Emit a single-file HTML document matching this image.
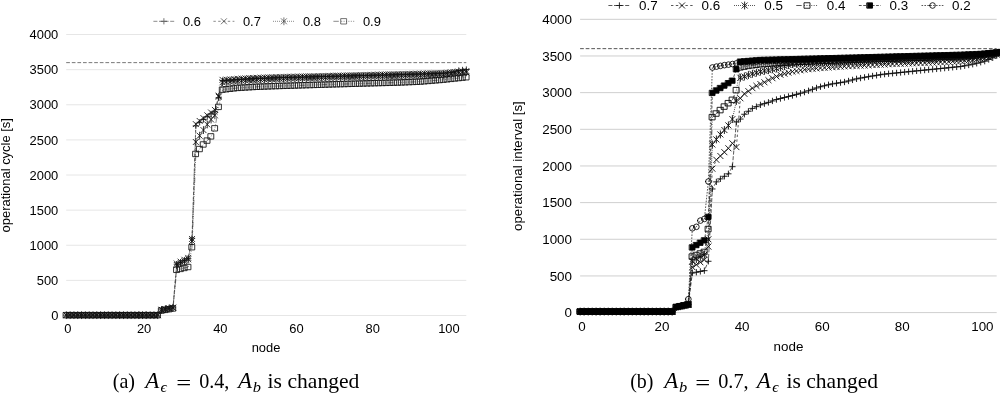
<!DOCTYPE html>
<html><head><meta charset="utf-8"><title>figure</title>
<style>
html,body{margin:0;padding:0;background:#fff;}
svg{display:block;}
text{fill:#000;}
</style></head>
<body>
<svg width="1000" height="393" viewBox="0 0 1000 393" font-family="'Liberation Sans','DejaVu Sans',sans-serif">
<rect width="1000" height="393" fill="#fff"/>
<g id="chart-a">
<line x1="66.2" x2="466.3" y1="315.50" y2="315.50" stroke="#e6e6e6" stroke-width="1"/>
<line x1="66.2" x2="466.3" y1="280.38" y2="280.38" stroke="#e6e6e6" stroke-width="1"/>
<line x1="66.2" x2="466.3" y1="245.26" y2="245.26" stroke="#e6e6e6" stroke-width="1"/>
<line x1="66.2" x2="466.3" y1="210.14" y2="210.14" stroke="#e6e6e6" stroke-width="1"/>
<line x1="66.2" x2="466.3" y1="175.02" y2="175.02" stroke="#e6e6e6" stroke-width="1"/>
<line x1="66.2" x2="466.3" y1="139.90" y2="139.90" stroke="#e6e6e6" stroke-width="1"/>
<line x1="66.2" x2="466.3" y1="104.78" y2="104.78" stroke="#e6e6e6" stroke-width="1"/>
<line x1="66.2" x2="466.3" y1="69.66" y2="69.66" stroke="#e6e6e6" stroke-width="1"/>
<line x1="66.2" x2="466.3" y1="34.54" y2="34.54" stroke="#e6e6e6" stroke-width="1"/>
<g font-size="12.9" text-anchor="end">
<text x="58.3" y="320.20">0</text>
<text x="58.3" y="285.08">500</text>
<text x="58.3" y="249.96">1000</text>
<text x="58.3" y="214.84">1500</text>
<text x="58.3" y="179.72">2000</text>
<text x="58.3" y="144.60">2500</text>
<text x="58.3" y="109.48">3000</text>
<text x="58.3" y="74.36">3500</text>
<text x="58.3" y="39.24">4000</text>
</g>
<g font-size="12.9" text-anchor="middle">
<text x="67.90" y="332.9">0</text>
<text x="144.10" y="332.9">20</text>
<text x="220.30" y="332.9">40</text>
<text x="296.50" y="332.9">60</text>
<text x="372.70" y="332.9">80</text>
<text x="448.90" y="332.9">100</text>
<text x="266" y="352.3">node</text>
</g>
<text font-size="12.9" text-anchor="middle" textLength="114.3" lengthAdjust="spacingAndGlyphs" transform="translate(9.7 175.3) rotate(-90)">operational cycle [s]</text>
<line x1="66.2" x2="466.3" y1="62.64" y2="62.64" stroke="#777" stroke-width="1" stroke-dasharray="3.7 1.9"/>
<polyline points="66.30,315.15 70.11,315.15 73.92,315.15 77.73,315.15 81.54,315.15 85.35,315.15 89.16,315.15 92.97,315.15 96.78,315.15 100.59,315.15 104.40,315.15 108.21,315.15 112.02,315.15 115.83,315.15 119.64,315.15 123.45,315.15 127.26,315.15 131.07,315.15 134.88,315.15 138.69,315.15 142.50,315.15 146.31,315.15 150.12,315.15 153.93,315.15 157.74,315.15 161.55,309.88 165.36,309.18 169.17,308.48 172.98,307.77 176.79,264.22 180.60,262.35 184.41,260.48 188.22,258.61 192.03,238.24 195.84,125.85 199.65,122.34 203.46,119.53 207.27,116.72 211.08,113.91 214.89,111.80 218.70,97.76 222.51,80.55 226.32,80.30 230.13,80.05 233.94,79.79 237.75,79.54 241.56,79.29 245.37,79.04 249.18,78.79 252.99,78.64 256.80,78.49 260.61,78.34 264.42,78.19 268.23,78.04 272.04,77.89 275.85,77.74 279.66,77.64 283.47,77.55 287.28,77.45 291.09,77.36 294.90,77.26 298.71,77.17 302.52,77.07 306.33,76.98 310.14,76.88 313.95,76.79 317.76,76.69 321.57,76.60 325.38,76.50 329.19,76.41 333.00,76.31 336.81,76.22 340.62,76.12 344.43,76.03 348.24,75.93 352.05,75.83 355.86,75.74 359.67,75.64 363.48,75.54 367.29,75.45 371.10,75.35 374.91,75.25 378.72,75.16 382.53,75.06 386.34,74.96 390.15,74.87 393.96,74.77 397.77,74.67 401.58,74.58 405.39,74.46 409.20,74.35 413.01,74.23 416.82,74.12 420.63,74.00 424.44,73.89 428.25,73.77 432.06,73.66 435.87,73.54 439.68,73.43 443.49,73.31 447.30,72.84 451.11,72.38 454.92,71.91 458.73,70.50 462.54,69.94 466.35,69.52" fill="none" stroke="#3a3a3a" stroke-width="0.6" stroke-dasharray="4 1.6"/>
<path d="M63.70 315.15H68.90M66.30 312.55V317.75M67.51 315.15H72.71M70.11 312.55V317.75M71.32 315.15H76.52M73.92 312.55V317.75M75.13 315.15H80.33M77.73 312.55V317.75M78.94 315.15H84.14M81.54 312.55V317.75M82.75 315.15H87.95M85.35 312.55V317.75M86.56 315.15H91.76M89.16 312.55V317.75M90.37 315.15H95.57M92.97 312.55V317.75M94.18 315.15H99.38M96.78 312.55V317.75M97.99 315.15H103.19M100.59 312.55V317.75M101.80 315.15H107.00M104.40 312.55V317.75M105.61 315.15H110.81M108.21 312.55V317.75M109.42 315.15H114.62M112.02 312.55V317.75M113.23 315.15H118.43M115.83 312.55V317.75M117.04 315.15H122.24M119.64 312.55V317.75M120.85 315.15H126.05M123.45 312.55V317.75M124.66 315.15H129.86M127.26 312.55V317.75M128.47 315.15H133.67M131.07 312.55V317.75M132.28 315.15H137.48M134.88 312.55V317.75M136.09 315.15H141.29M138.69 312.55V317.75M139.90 315.15H145.10M142.50 312.55V317.75M143.71 315.15H148.91M146.31 312.55V317.75M147.52 315.15H152.72M150.12 312.55V317.75M151.33 315.15H156.53M153.93 312.55V317.75M155.14 315.15H160.34M157.74 312.55V317.75M158.95 309.88H164.15M161.55 307.28V312.48M162.76 309.18H167.96M165.36 306.58V311.78M166.57 308.48H171.77M169.17 305.88V311.08M170.38 307.77H175.58M172.98 305.17V310.37M174.19 264.22H179.39M176.79 261.62V266.82M178.00 262.35H183.20M180.60 259.75V264.95M181.81 260.48H187.01M184.41 257.88V263.08M185.62 258.61H190.82M188.22 256.01V261.21M189.43 238.24H194.63M192.03 235.64V240.84M193.24 125.85H198.44M195.84 123.25V128.45M197.05 122.34H202.25M199.65 119.74V124.94M200.86 119.53H206.06M203.46 116.93V122.13M204.67 116.72H209.87M207.27 114.12V119.32M208.48 113.91H213.68M211.08 111.31V116.51M212.29 111.80H217.49M214.89 109.20V114.40M216.10 97.76H221.30M218.70 95.16V100.36M219.91 80.55H225.11M222.51 77.95V83.15M223.72 80.30H228.92M226.32 77.70V82.90M227.53 80.05H232.73M230.13 77.45V82.65M231.34 79.79H236.54M233.94 77.19V82.39M235.15 79.54H240.35M237.75 76.94V82.14M238.96 79.29H244.16M241.56 76.69V81.89M242.77 79.04H247.97M245.37 76.44V81.64M246.58 78.79H251.78M249.18 76.19V81.39M250.39 78.64H255.59M252.99 76.04V81.24M254.20 78.49H259.40M256.80 75.89V81.09M258.01 78.34H263.21M260.61 75.74V80.94M261.82 78.19H267.02M264.42 75.59V80.79M265.63 78.04H270.83M268.23 75.44V80.64M269.44 77.89H274.64M272.04 75.29V80.49M273.25 77.74H278.45M275.85 75.14V80.34M277.06 77.64H282.26M279.66 75.04V80.24M280.87 77.55H286.07M283.47 74.95V80.15M284.68 77.45H289.88M287.28 74.85V80.05M288.49 77.36H293.69M291.09 74.76V79.96M292.30 77.26H297.50M294.90 74.66V79.86M296.11 77.17H301.31M298.71 74.57V79.77M299.92 77.07H305.12M302.52 74.47V79.67M303.73 76.98H308.93M306.33 74.38V79.58M307.54 76.88H312.74M310.14 74.28V79.48M311.35 76.79H316.55M313.95 74.19V79.39M315.16 76.69H320.36M317.76 74.09V79.29M318.97 76.60H324.17M321.57 74.00V79.20M322.78 76.50H327.98M325.38 73.90V79.10M326.59 76.41H331.79M329.19 73.81V79.01M330.40 76.31H335.60M333.00 73.71V78.91M334.21 76.22H339.41M336.81 73.62V78.82M338.02 76.12H343.22M340.62 73.52V78.72M341.83 76.03H347.03M344.43 73.43V78.63M345.64 75.93H350.84M348.24 73.33V78.53M349.45 75.83H354.65M352.05 73.23V78.43M353.26 75.74H358.46M355.86 73.14V78.34M357.07 75.64H362.27M359.67 73.04V78.24M360.88 75.54H366.08M363.48 72.94V78.14M364.69 75.45H369.89M367.29 72.85V78.05M368.50 75.35H373.70M371.10 72.75V77.95M372.31 75.25H377.51M374.91 72.65V77.85M376.12 75.16H381.32M378.72 72.56V77.76M379.93 75.06H385.13M382.53 72.46V77.66M383.74 74.96H388.94M386.34 72.36V77.56M387.55 74.87H392.75M390.15 72.27V77.47M391.36 74.77H396.56M393.96 72.17V77.37M395.17 74.67H400.37M397.77 72.07V77.27M398.98 74.58H404.18M401.58 71.98V77.18M402.79 74.46H407.99M405.39 71.86V77.06M406.60 74.35H411.80M409.20 71.75V76.95M410.41 74.23H415.61M413.01 71.63V76.83M414.22 74.12H419.42M416.82 71.52V76.72M418.03 74.00H423.23M420.63 71.40V76.60M421.84 73.89H427.04M424.44 71.29V76.49M425.65 73.77H430.85M428.25 71.17V76.37M429.46 73.66H434.66M432.06 71.06V76.26M433.27 73.54H438.47M435.87 70.94V76.14M437.08 73.43H442.28M439.68 70.83V76.03M440.89 73.31H446.09M443.49 70.71V75.91M444.70 72.84H449.90M447.30 70.24V75.44M448.51 72.38H453.71M451.11 69.78V74.98M452.32 71.91H457.52M454.92 69.31V74.51M456.13 70.50H461.33M458.73 67.90V73.10M459.94 69.94H465.14M462.54 67.34V72.54M463.75 69.52H468.95M466.35 66.92V72.12" fill="none" stroke="#111" stroke-width="0.85" stroke-linecap="square"/>
<polyline points="66.30,315.15 70.11,315.15 73.92,315.15 77.73,315.15 81.54,315.15 85.35,315.15 89.16,315.15 92.97,315.15 96.78,315.15 100.59,315.15 104.40,315.15 108.21,315.15 112.02,315.15 115.83,315.15 119.64,315.15 123.45,315.15 127.26,315.15 131.07,315.15 134.88,315.15 138.69,315.15 142.50,315.15 146.31,315.15 150.12,315.15 153.93,315.15 157.74,315.15 161.55,309.74 165.36,309.04 169.17,308.34 172.98,307.63 176.79,263.52 180.60,261.65 184.41,259.78 188.22,257.90 192.03,238.94 195.84,124.10 199.65,120.94 203.46,118.13 207.27,115.32 211.08,112.51 214.89,109.91 218.70,95.65 222.51,79.84 226.32,79.59 230.13,79.34 233.94,79.09 237.75,78.84 241.56,78.59 245.37,78.34 249.18,78.09 252.99,77.94 256.80,77.79 260.61,77.64 264.42,77.49 268.23,77.34 272.04,77.19 275.85,77.04 279.66,76.95 283.47,76.86 287.28,76.77 291.09,76.69 294.90,76.60 298.71,76.51 302.52,76.43 306.33,76.34 310.14,76.25 313.95,76.17 317.76,76.08 321.57,75.99 325.38,75.91 329.19,75.82 333.00,75.73 336.81,75.65 340.62,75.56 344.43,75.46 348.24,75.37 352.05,75.27 355.86,75.17 359.67,75.08 363.48,74.98 367.29,74.88 371.10,74.79 374.91,74.69 378.72,74.59 382.53,74.50 386.34,74.40 390.15,74.30 393.96,74.21 397.77,74.11 401.58,74.01 405.39,73.93 409.20,73.84 413.01,73.75 416.82,73.66 420.63,73.57 424.44,73.48 428.25,73.39 432.06,73.30 435.87,73.21 439.68,73.12 443.49,73.03 447.30,72.70 451.11,72.38 454.92,72.05 458.73,71.72 462.54,71.39 466.35,71.06" fill="none" stroke="#3a3a3a" stroke-width="0.6" stroke-dasharray="2.4 2.4"/>
<path d="M63.70 312.55L68.90 317.75M63.70 317.75L68.90 312.55M67.51 312.55L72.71 317.75M67.51 317.75L72.71 312.55M71.32 312.55L76.52 317.75M71.32 317.75L76.52 312.55M75.13 312.55L80.33 317.75M75.13 317.75L80.33 312.55M78.94 312.55L84.14 317.75M78.94 317.75L84.14 312.55M82.75 312.55L87.95 317.75M82.75 317.75L87.95 312.55M86.56 312.55L91.76 317.75M86.56 317.75L91.76 312.55M90.37 312.55L95.57 317.75M90.37 317.75L95.57 312.55M94.18 312.55L99.38 317.75M94.18 317.75L99.38 312.55M97.99 312.55L103.19 317.75M97.99 317.75L103.19 312.55M101.80 312.55L107.00 317.75M101.80 317.75L107.00 312.55M105.61 312.55L110.81 317.75M105.61 317.75L110.81 312.55M109.42 312.55L114.62 317.75M109.42 317.75L114.62 312.55M113.23 312.55L118.43 317.75M113.23 317.75L118.43 312.55M117.04 312.55L122.24 317.75M117.04 317.75L122.24 312.55M120.85 312.55L126.05 317.75M120.85 317.75L126.05 312.55M124.66 312.55L129.86 317.75M124.66 317.75L129.86 312.55M128.47 312.55L133.67 317.75M128.47 317.75L133.67 312.55M132.28 312.55L137.48 317.75M132.28 317.75L137.48 312.55M136.09 312.55L141.29 317.75M136.09 317.75L141.29 312.55M139.90 312.55L145.10 317.75M139.90 317.75L145.10 312.55M143.71 312.55L148.91 317.75M143.71 317.75L148.91 312.55M147.52 312.55L152.72 317.75M147.52 317.75L152.72 312.55M151.33 312.55L156.53 317.75M151.33 317.75L156.53 312.55M155.14 312.55L160.34 317.75M155.14 317.75L160.34 312.55M158.95 307.14L164.15 312.34M158.95 312.34L164.15 307.14M162.76 306.44L167.96 311.64M162.76 311.64L167.96 306.44M166.57 305.74L171.77 310.94M166.57 310.94L171.77 305.74M170.38 305.03L175.58 310.23M170.38 310.23L175.58 305.03M174.19 260.92L179.39 266.12M174.19 266.12L179.39 260.92M178.00 259.05L183.20 264.25M178.00 264.25L183.20 259.05M181.81 257.18L187.01 262.38M181.81 262.38L187.01 257.18M185.62 255.30L190.82 260.50M185.62 260.50L190.82 255.30M189.43 236.34L194.63 241.54M189.43 241.54L194.63 236.34M193.24 121.50L198.44 126.70M193.24 126.70L198.44 121.50M197.05 118.34L202.25 123.54M197.05 123.54L202.25 118.34M200.86 115.53L206.06 120.73M200.86 120.73L206.06 115.53M204.67 112.72L209.87 117.92M204.67 117.92L209.87 112.72M208.48 109.91L213.68 115.11M208.48 115.11L213.68 109.91M212.29 107.31L217.49 112.51M212.29 112.51L217.49 107.31M216.10 93.05L221.30 98.25M216.10 98.25L221.30 93.05M219.91 77.24L225.11 82.44M219.91 82.44L225.11 77.24M223.72 76.99L228.92 82.19M223.72 82.19L228.92 76.99M227.53 76.74L232.73 81.94M227.53 81.94L232.73 76.74M231.34 76.49L236.54 81.69M231.34 81.69L236.54 76.49M235.15 76.24L240.35 81.44M235.15 81.44L240.35 76.24M238.96 75.99L244.16 81.19M238.96 81.19L244.16 75.99M242.77 75.74L247.97 80.94M242.77 80.94L247.97 75.74M246.58 75.49L251.78 80.69M246.58 80.69L251.78 75.49M250.39 75.34L255.59 80.54M250.39 80.54L255.59 75.34M254.20 75.19L259.40 80.39M254.20 80.39L259.40 75.19M258.01 75.04L263.21 80.24M258.01 80.24L263.21 75.04M261.82 74.89L267.02 80.09M261.82 80.09L267.02 74.89M265.63 74.74L270.83 79.94M265.63 79.94L270.83 74.74M269.44 74.59L274.64 79.79M269.44 79.79L274.64 74.59M273.25 74.44L278.45 79.64M273.25 79.64L278.45 74.44M277.06 74.35L282.26 79.55M277.06 79.55L282.26 74.35M280.87 74.26L286.07 79.46M280.87 79.46L286.07 74.26M284.68 74.17L289.88 79.37M284.68 79.37L289.88 74.17M288.49 74.09L293.69 79.29M288.49 79.29L293.69 74.09M292.30 74.00L297.50 79.20M292.30 79.20L297.50 74.00M296.11 73.91L301.31 79.11M296.11 79.11L301.31 73.91M299.92 73.83L305.12 79.03M299.92 79.03L305.12 73.83M303.73 73.74L308.93 78.94M303.73 78.94L308.93 73.74M307.54 73.65L312.74 78.85M307.54 78.85L312.74 73.65M311.35 73.57L316.55 78.77M311.35 78.77L316.55 73.57M315.16 73.48L320.36 78.68M315.16 78.68L320.36 73.48M318.97 73.39L324.17 78.59M318.97 78.59L324.17 73.39M322.78 73.31L327.98 78.51M322.78 78.51L327.98 73.31M326.59 73.22L331.79 78.42M326.59 78.42L331.79 73.22M330.40 73.13L335.60 78.33M330.40 78.33L335.60 73.13M334.21 73.05L339.41 78.25M334.21 78.25L339.41 73.05M338.02 72.96L343.22 78.16M338.02 78.16L343.22 72.96M341.83 72.86L347.03 78.06M341.83 78.06L347.03 72.86M345.64 72.77L350.84 77.97M345.64 77.97L350.84 72.77M349.45 72.67L354.65 77.87M349.45 77.87L354.65 72.67M353.26 72.57L358.46 77.77M353.26 77.77L358.46 72.57M357.07 72.48L362.27 77.68M357.07 77.68L362.27 72.48M360.88 72.38L366.08 77.58M360.88 77.58L366.08 72.38M364.69 72.28L369.89 77.48M364.69 77.48L369.89 72.28M368.50 72.19L373.70 77.39M368.50 77.39L373.70 72.19M372.31 72.09L377.51 77.29M372.31 77.29L377.51 72.09M376.12 71.99L381.32 77.19M376.12 77.19L381.32 71.99M379.93 71.90L385.13 77.10M379.93 77.10L385.13 71.90M383.74 71.80L388.94 77.00M383.74 77.00L388.94 71.80M387.55 71.70L392.75 76.90M387.55 76.90L392.75 71.70M391.36 71.61L396.56 76.81M391.36 76.81L396.56 71.61M395.17 71.51L400.37 76.71M395.17 76.71L400.37 71.51M398.98 71.41L404.18 76.61M398.98 76.61L404.18 71.41M402.79 71.33L407.99 76.53M402.79 76.53L407.99 71.33M406.60 71.24L411.80 76.44M406.60 76.44L411.80 71.24M410.41 71.15L415.61 76.35M410.41 76.35L415.61 71.15M414.22 71.06L419.42 76.26M414.22 76.26L419.42 71.06M418.03 70.97L423.23 76.17M418.03 76.17L423.23 70.97M421.84 70.88L427.04 76.08M421.84 76.08L427.04 70.88M425.65 70.79L430.85 75.99M425.65 75.99L430.85 70.79M429.46 70.70L434.66 75.90M429.46 75.90L434.66 70.70M433.27 70.61L438.47 75.81M433.27 75.81L438.47 70.61M437.08 70.52L442.28 75.72M437.08 75.72L442.28 70.52M440.89 70.43L446.09 75.63M440.89 75.63L446.09 70.43M444.70 70.10L449.90 75.30M444.70 75.30L449.90 70.10M448.51 69.78L453.71 74.98M448.51 74.98L453.71 69.78M452.32 69.45L457.52 74.65M452.32 74.65L457.52 69.45M456.13 69.12L461.33 74.32M456.13 74.32L461.33 69.12M459.94 68.79L465.14 73.99M459.94 73.99L465.14 68.79M463.75 68.46L468.95 73.66M463.75 73.66L468.95 68.46" fill="none" stroke="#111" stroke-width="0.85" stroke-linecap="square"/>
<polyline points="66.30,315.15 70.11,315.15 73.92,315.15 77.73,315.15 81.54,315.15 85.35,315.15 89.16,315.15 92.97,315.15 96.78,315.15 100.59,315.15 104.40,315.15 108.21,315.15 112.02,315.15 115.83,315.15 119.64,315.15 123.45,315.15 127.26,315.15 131.07,315.15 134.88,315.15 138.69,315.15 142.50,315.15 146.31,315.15 150.12,315.15 153.93,315.15 157.74,315.15 161.55,309.88 165.36,309.18 169.17,308.48 172.98,307.77 176.79,264.93 180.60,263.05 184.41,261.18 188.22,259.31 192.03,241.05 195.84,142.01 199.65,135.69 203.46,130.07 207.27,124.45 211.08,119.53 214.89,115.32 218.70,96.70 222.51,82.30 226.32,82.00 230.13,81.70 233.94,81.40 237.75,81.10 241.56,80.80 245.37,80.50 249.18,80.20 252.99,80.02 256.80,79.83 260.61,79.65 264.42,79.47 268.23,79.29 272.04,79.11 275.85,78.93 279.66,78.83 283.47,78.73 287.28,78.63 291.09,78.54 294.90,78.44 298.71,78.34 302.52,78.24 306.33,78.14 310.14,78.04 313.95,77.94 317.76,77.84 321.57,77.74 325.38,77.64 329.19,77.54 333.00,77.44 336.81,77.35 340.62,77.25 344.43,77.16 348.24,77.07 352.05,76.98 355.86,76.89 359.67,76.81 363.48,76.72 367.29,76.63 371.10,76.54 374.91,76.46 378.72,76.37 382.53,76.28 386.34,76.19 390.15,76.10 393.96,76.02 397.77,75.93 401.58,75.84 405.39,75.74 409.20,75.64 413.01,75.53 416.82,75.43 420.63,75.33 424.44,75.23 428.25,75.13 432.06,75.02 435.87,74.92 439.68,74.82 443.49,74.72 447.30,74.32 451.11,73.92 454.92,73.52 458.73,73.13 462.54,72.73 466.35,72.33" fill="none" stroke="#3a3a3a" stroke-width="0.6" stroke-dasharray="1 1"/>
<path d="M63.70 312.55L68.90 317.75M63.70 317.75L68.90 312.55M66.30 311.75V318.55M67.51 312.55L72.71 317.75M67.51 317.75L72.71 312.55M70.11 311.75V318.55M71.32 312.55L76.52 317.75M71.32 317.75L76.52 312.55M73.92 311.75V318.55M75.13 312.55L80.33 317.75M75.13 317.75L80.33 312.55M77.73 311.75V318.55M78.94 312.55L84.14 317.75M78.94 317.75L84.14 312.55M81.54 311.75V318.55M82.75 312.55L87.95 317.75M82.75 317.75L87.95 312.55M85.35 311.75V318.55M86.56 312.55L91.76 317.75M86.56 317.75L91.76 312.55M89.16 311.75V318.55M90.37 312.55L95.57 317.75M90.37 317.75L95.57 312.55M92.97 311.75V318.55M94.18 312.55L99.38 317.75M94.18 317.75L99.38 312.55M96.78 311.75V318.55M97.99 312.55L103.19 317.75M97.99 317.75L103.19 312.55M100.59 311.75V318.55M101.80 312.55L107.00 317.75M101.80 317.75L107.00 312.55M104.40 311.75V318.55M105.61 312.55L110.81 317.75M105.61 317.75L110.81 312.55M108.21 311.75V318.55M109.42 312.55L114.62 317.75M109.42 317.75L114.62 312.55M112.02 311.75V318.55M113.23 312.55L118.43 317.75M113.23 317.75L118.43 312.55M115.83 311.75V318.55M117.04 312.55L122.24 317.75M117.04 317.75L122.24 312.55M119.64 311.75V318.55M120.85 312.55L126.05 317.75M120.85 317.75L126.05 312.55M123.45 311.75V318.55M124.66 312.55L129.86 317.75M124.66 317.75L129.86 312.55M127.26 311.75V318.55M128.47 312.55L133.67 317.75M128.47 317.75L133.67 312.55M131.07 311.75V318.55M132.28 312.55L137.48 317.75M132.28 317.75L137.48 312.55M134.88 311.75V318.55M136.09 312.55L141.29 317.75M136.09 317.75L141.29 312.55M138.69 311.75V318.55M139.90 312.55L145.10 317.75M139.90 317.75L145.10 312.55M142.50 311.75V318.55M143.71 312.55L148.91 317.75M143.71 317.75L148.91 312.55M146.31 311.75V318.55M147.52 312.55L152.72 317.75M147.52 317.75L152.72 312.55M150.12 311.75V318.55M151.33 312.55L156.53 317.75M151.33 317.75L156.53 312.55M153.93 311.75V318.55M155.14 312.55L160.34 317.75M155.14 317.75L160.34 312.55M157.74 311.75V318.55M158.95 307.28L164.15 312.48M158.95 312.48L164.15 307.28M161.55 306.48V313.28M162.76 306.58L167.96 311.78M162.76 311.78L167.96 306.58M165.36 305.78V312.58M166.57 305.88L171.77 311.08M166.57 311.08L171.77 305.88M169.17 305.08V311.88M170.38 305.17L175.58 310.37M170.38 310.37L175.58 305.17M172.98 304.37V311.17M174.19 262.33L179.39 267.53M174.19 267.53L179.39 262.33M176.79 261.53V268.33M178.00 260.45L183.20 265.65M178.00 265.65L183.20 260.45M180.60 259.65V266.45M181.81 258.58L187.01 263.78M181.81 263.78L187.01 258.58M184.41 257.78V264.58M185.62 256.71L190.82 261.91M185.62 261.91L190.82 256.71M188.22 255.91V262.71M189.43 238.45L194.63 243.65M189.43 243.65L194.63 238.45M192.03 237.65V244.45M193.24 139.41L198.44 144.61M193.24 144.61L198.44 139.41M195.84 138.61V145.41M197.05 133.09L202.25 138.29M197.05 138.29L202.25 133.09M199.65 132.29V139.09M200.86 127.47L206.06 132.67M200.86 132.67L206.06 127.47M203.46 126.67V133.47M204.67 121.85L209.87 127.05M204.67 127.05L209.87 121.85M207.27 121.05V127.85M208.48 116.93L213.68 122.13M208.48 122.13L213.68 116.93M211.08 116.13V122.93M212.29 112.72L217.49 117.92M212.29 117.92L217.49 112.72M214.89 111.92V118.72M216.10 94.10L221.30 99.30M216.10 99.30L221.30 94.10M218.70 93.30V100.10M219.91 79.70L225.11 84.90M219.91 84.90L225.11 79.70M222.51 78.90V85.70M223.72 79.40L228.92 84.60M223.72 84.60L228.92 79.40M226.32 78.60V85.40M227.53 79.10L232.73 84.30M227.53 84.30L232.73 79.10M230.13 78.30V85.10M231.34 78.80L236.54 84.00M231.34 84.00L236.54 78.80M233.94 78.00V84.80M235.15 78.50L240.35 83.70M235.15 83.70L240.35 78.50M237.75 77.70V84.50M238.96 78.20L244.16 83.40M238.96 83.40L244.16 78.20M241.56 77.40V84.20M242.77 77.90L247.97 83.10M242.77 83.10L247.97 77.90M245.37 77.10V83.90M246.58 77.60L251.78 82.80M246.58 82.80L251.78 77.60M249.18 76.80V83.60M250.39 77.42L255.59 82.62M250.39 82.62L255.59 77.42M252.99 76.62V83.42M254.20 77.23L259.40 82.43M254.20 82.43L259.40 77.23M256.80 76.43V83.23M258.01 77.05L263.21 82.25M258.01 82.25L263.21 77.05M260.61 76.25V83.05M261.82 76.87L267.02 82.07M261.82 82.07L267.02 76.87M264.42 76.07V82.87M265.63 76.69L270.83 81.89M265.63 81.89L270.83 76.69M268.23 75.89V82.69M269.44 76.51L274.64 81.71M269.44 81.71L274.64 76.51M272.04 75.71V82.51M273.25 76.33L278.45 81.53M273.25 81.53L278.45 76.33M275.85 75.53V82.33M277.06 76.23L282.26 81.43M277.06 81.43L282.26 76.23M279.66 75.43V82.23M280.87 76.13L286.07 81.33M280.87 81.33L286.07 76.13M283.47 75.33V82.13M284.68 76.03L289.88 81.23M284.68 81.23L289.88 76.03M287.28 75.23V82.03M288.49 75.94L293.69 81.14M288.49 81.14L293.69 75.94M291.09 75.14V81.94M292.30 75.84L297.50 81.04M292.30 81.04L297.50 75.84M294.90 75.04V81.84M296.11 75.74L301.31 80.94M296.11 80.94L301.31 75.74M298.71 74.94V81.74M299.92 75.64L305.12 80.84M299.92 80.84L305.12 75.64M302.52 74.84V81.64M303.73 75.54L308.93 80.74M303.73 80.74L308.93 75.54M306.33 74.74V81.54M307.54 75.44L312.74 80.64M307.54 80.64L312.74 75.44M310.14 74.64V81.44M311.35 75.34L316.55 80.54M311.35 80.54L316.55 75.34M313.95 74.54V81.34M315.16 75.24L320.36 80.44M315.16 80.44L320.36 75.24M317.76 74.44V81.24M318.97 75.14L324.17 80.34M318.97 80.34L324.17 75.14M321.57 74.34V81.14M322.78 75.04L327.98 80.24M322.78 80.24L327.98 75.04M325.38 74.24V81.04M326.59 74.94L331.79 80.14M326.59 80.14L331.79 74.94M329.19 74.14V80.94M330.40 74.84L335.60 80.04M330.40 80.04L335.60 74.84M333.00 74.04V80.84M334.21 74.75L339.41 79.95M334.21 79.95L339.41 74.75M336.81 73.95V80.75M338.02 74.65L343.22 79.85M338.02 79.85L343.22 74.65M340.62 73.85V80.65M341.83 74.56L347.03 79.76M341.83 79.76L347.03 74.56M344.43 73.76V80.56M345.64 74.47L350.84 79.67M345.64 79.67L350.84 74.47M348.24 73.67V80.47M349.45 74.38L354.65 79.58M349.45 79.58L354.65 74.38M352.05 73.58V80.38M353.26 74.29L358.46 79.49M353.26 79.49L358.46 74.29M355.86 73.49V80.29M357.07 74.21L362.27 79.41M357.07 79.41L362.27 74.21M359.67 73.41V80.21M360.88 74.12L366.08 79.32M360.88 79.32L366.08 74.12M363.48 73.32V80.12M364.69 74.03L369.89 79.23M364.69 79.23L369.89 74.03M367.29 73.23V80.03M368.50 73.94L373.70 79.14M368.50 79.14L373.70 73.94M371.10 73.14V79.94M372.31 73.86L377.51 79.06M372.31 79.06L377.51 73.86M374.91 73.06V79.86M376.12 73.77L381.32 78.97M376.12 78.97L381.32 73.77M378.72 72.97V79.77M379.93 73.68L385.13 78.88M379.93 78.88L385.13 73.68M382.53 72.88V79.68M383.74 73.59L388.94 78.79M383.74 78.79L388.94 73.59M386.34 72.79V79.59M387.55 73.50L392.75 78.70M387.55 78.70L392.75 73.50M390.15 72.70V79.50M391.36 73.42L396.56 78.62M391.36 78.62L396.56 73.42M393.96 72.62V79.42M395.17 73.33L400.37 78.53M395.17 78.53L400.37 73.33M397.77 72.53V79.33M398.98 73.24L404.18 78.44M398.98 78.44L404.18 73.24M401.58 72.44V79.24M402.79 73.14L407.99 78.34M402.79 78.34L407.99 73.14M405.39 72.34V79.14M406.60 73.04L411.80 78.24M406.60 78.24L411.80 73.04M409.20 72.24V79.04M410.41 72.93L415.61 78.13M410.41 78.13L415.61 72.93M413.01 72.13V78.93M414.22 72.83L419.42 78.03M414.22 78.03L419.42 72.83M416.82 72.03V78.83M418.03 72.73L423.23 77.93M418.03 77.93L423.23 72.73M420.63 71.93V78.73M421.84 72.63L427.04 77.83M421.84 77.83L427.04 72.63M424.44 71.83V78.63M425.65 72.53L430.85 77.73M425.65 77.73L430.85 72.53M428.25 71.73V78.53M429.46 72.42L434.66 77.62M429.46 77.62L434.66 72.42M432.06 71.62V78.42M433.27 72.32L438.47 77.52M433.27 77.52L438.47 72.32M435.87 71.52V78.32M437.08 72.22L442.28 77.42M437.08 77.42L442.28 72.22M439.68 71.42V78.22M440.89 72.12L446.09 77.32M440.89 77.32L446.09 72.12M443.49 71.32V78.12M444.70 71.72L449.90 76.92M444.70 76.92L449.90 71.72M447.30 70.92V77.72M448.51 71.32L453.71 76.52M448.51 76.52L453.71 71.32M451.11 70.52V77.32M452.32 70.92L457.52 76.12M452.32 76.12L457.52 70.92M454.92 70.12V76.92M456.13 70.53L461.33 75.73M456.13 75.73L461.33 70.53M458.73 69.73V76.53M459.94 70.13L465.14 75.33M459.94 75.33L465.14 70.13M462.54 69.33V76.13M463.75 69.73L468.95 74.93M463.75 74.93L468.95 69.73M466.35 68.93V75.73" fill="none" stroke="#111" stroke-width="0.85" stroke-linecap="square"/>
<polyline points="66.30,315.15 70.11,315.15 73.92,315.15 77.73,315.15 81.54,315.15 85.35,315.15 89.16,315.15 92.97,315.15 96.78,315.15 100.59,315.15 104.40,315.15 108.21,315.15 112.02,315.15 115.83,315.15 119.64,315.15 123.45,315.15 127.26,315.15 131.07,315.15 134.88,315.15 138.69,315.15 142.50,315.15 146.31,315.15 150.12,315.15 153.93,315.15 157.74,315.15 161.55,310.58 165.36,309.88 169.17,309.18 172.98,308.48 176.79,269.84 180.60,268.91 184.41,267.97 188.22,267.03 192.03,247.23 195.84,153.95 199.65,149.03 203.46,144.47 207.27,140.60 211.08,136.39 214.89,128.31 218.70,106.89 222.51,89.68 226.32,89.24 230.13,88.80 233.94,88.36 237.75,87.92 241.56,87.70 245.37,87.47 249.18,87.25 252.99,87.02 256.80,86.80 260.61,86.66 264.42,86.52 268.23,86.38 272.04,86.24 275.85,86.10 279.66,85.98 283.47,85.86 287.28,85.75 291.09,85.63 294.90,85.52 298.71,85.40 302.52,85.29 306.33,85.17 310.14,85.05 313.95,84.94 317.76,84.82 321.57,84.71 325.38,84.59 329.19,84.48 333.00,84.36 336.81,84.25 340.62,84.13 344.43,84.02 348.24,83.92 352.05,83.81 355.86,83.71 359.67,83.60 363.48,83.50 367.29,83.39 371.10,83.29 374.91,83.18 378.72,83.08 382.53,82.97 386.34,82.87 390.15,82.76 393.96,82.65 397.77,82.55 401.58,82.44 405.39,82.28 409.20,82.11 413.01,81.94 416.82,81.77 420.63,81.60 424.44,81.28 428.25,80.97 432.06,80.65 435.87,80.34 439.68,80.02 443.49,79.70 447.30,79.29 451.11,78.88 454.92,78.48 458.73,78.07 462.54,77.66 466.35,77.25" fill="none" stroke="#3a3a3a" stroke-width="0.6" stroke-dasharray="5.4 2.4 1 1.4 1 1.4 1 1.4 1 1.4 1 1.4 1 1.4"/>
<path d="M63.60 312.45h5.40v5.40h-5.40zM67.41 312.45h5.40v5.40h-5.40zM71.22 312.45h5.40v5.40h-5.40zM75.03 312.45h5.40v5.40h-5.40zM78.84 312.45h5.40v5.40h-5.40zM82.65 312.45h5.40v5.40h-5.40zM86.46 312.45h5.40v5.40h-5.40zM90.27 312.45h5.40v5.40h-5.40zM94.08 312.45h5.40v5.40h-5.40zM97.89 312.45h5.40v5.40h-5.40zM101.70 312.45h5.40v5.40h-5.40zM105.51 312.45h5.40v5.40h-5.40zM109.32 312.45h5.40v5.40h-5.40zM113.13 312.45h5.40v5.40h-5.40zM116.94 312.45h5.40v5.40h-5.40zM120.75 312.45h5.40v5.40h-5.40zM124.56 312.45h5.40v5.40h-5.40zM128.37 312.45h5.40v5.40h-5.40zM132.18 312.45h5.40v5.40h-5.40zM135.99 312.45h5.40v5.40h-5.40zM139.80 312.45h5.40v5.40h-5.40zM143.61 312.45h5.40v5.40h-5.40zM147.42 312.45h5.40v5.40h-5.40zM151.23 312.45h5.40v5.40h-5.40zM155.04 312.45h5.40v5.40h-5.40zM158.85 307.88h5.40v5.40h-5.40zM162.66 307.18h5.40v5.40h-5.40zM166.47 306.48h5.40v5.40h-5.40zM170.28 305.78h5.40v5.40h-5.40zM174.09 267.14h5.40v5.40h-5.40zM177.90 266.21h5.40v5.40h-5.40zM181.71 265.27h5.40v5.40h-5.40zM185.52 264.33h5.40v5.40h-5.40zM189.33 244.53h5.40v5.40h-5.40zM193.14 151.25h5.40v5.40h-5.40zM196.95 146.33h5.40v5.40h-5.40zM200.76 141.77h5.40v5.40h-5.40zM204.57 137.90h5.40v5.40h-5.40zM208.38 133.69h5.40v5.40h-5.40zM212.19 125.61h5.40v5.40h-5.40zM216.00 104.19h5.40v5.40h-5.40zM219.81 86.98h5.40v5.40h-5.40zM223.62 86.54h5.40v5.40h-5.40zM227.43 86.10h5.40v5.40h-5.40zM231.24 85.66h5.40v5.40h-5.40zM235.05 85.22h5.40v5.40h-5.40zM238.86 85.00h5.40v5.40h-5.40zM242.67 84.77h5.40v5.40h-5.40zM246.48 84.55h5.40v5.40h-5.40zM250.29 84.32h5.40v5.40h-5.40zM254.10 84.10h5.40v5.40h-5.40zM257.91 83.96h5.40v5.40h-5.40zM261.72 83.82h5.40v5.40h-5.40zM265.53 83.68h5.40v5.40h-5.40zM269.34 83.54h5.40v5.40h-5.40zM273.15 83.40h5.40v5.40h-5.40zM276.96 83.28h5.40v5.40h-5.40zM280.77 83.16h5.40v5.40h-5.40zM284.58 83.05h5.40v5.40h-5.40zM288.39 82.93h5.40v5.40h-5.40zM292.20 82.82h5.40v5.40h-5.40zM296.01 82.70h5.40v5.40h-5.40zM299.82 82.59h5.40v5.40h-5.40zM303.63 82.47h5.40v5.40h-5.40zM307.44 82.35h5.40v5.40h-5.40zM311.25 82.24h5.40v5.40h-5.40zM315.06 82.12h5.40v5.40h-5.40zM318.87 82.01h5.40v5.40h-5.40zM322.68 81.89h5.40v5.40h-5.40zM326.49 81.78h5.40v5.40h-5.40zM330.30 81.66h5.40v5.40h-5.40zM334.11 81.55h5.40v5.40h-5.40zM337.92 81.43h5.40v5.40h-5.40zM341.73 81.32h5.40v5.40h-5.40zM345.54 81.22h5.40v5.40h-5.40zM349.35 81.11h5.40v5.40h-5.40zM353.16 81.01h5.40v5.40h-5.40zM356.97 80.90h5.40v5.40h-5.40zM360.78 80.80h5.40v5.40h-5.40zM364.59 80.69h5.40v5.40h-5.40zM368.40 80.59h5.40v5.40h-5.40zM372.21 80.48h5.40v5.40h-5.40zM376.02 80.38h5.40v5.40h-5.40zM379.83 80.27h5.40v5.40h-5.40zM383.64 80.17h5.40v5.40h-5.40zM387.45 80.06h5.40v5.40h-5.40zM391.26 79.95h5.40v5.40h-5.40zM395.07 79.85h5.40v5.40h-5.40zM398.88 79.74h5.40v5.40h-5.40zM402.69 79.58h5.40v5.40h-5.40zM406.50 79.41h5.40v5.40h-5.40zM410.31 79.24h5.40v5.40h-5.40zM414.12 79.07h5.40v5.40h-5.40zM417.93 78.90h5.40v5.40h-5.40zM421.74 78.58h5.40v5.40h-5.40zM425.55 78.27h5.40v5.40h-5.40zM429.36 77.95h5.40v5.40h-5.40zM433.17 77.64h5.40v5.40h-5.40zM436.98 77.32h5.40v5.40h-5.40zM440.79 77.00h5.40v5.40h-5.40zM444.60 76.59h5.40v5.40h-5.40zM448.41 76.18h5.40v5.40h-5.40zM452.22 75.78h5.40v5.40h-5.40zM456.03 75.37h5.40v5.40h-5.40zM459.84 74.96h5.40v5.40h-5.40zM463.65 74.55h5.40v5.40h-5.40z" fill="#fff" fill-opacity="0" stroke="#111" stroke-width="0.85" stroke-linecap="square"/>
<g font-size="12.9">
<line x1="153.40" x2="174.40" y1="21.3" y2="21.3" stroke="#3a3a3a" stroke-width="0.6" stroke-dasharray="4 1.6"/>
<path d="M161.30 21.30H166.50M163.90 18.70V23.90" fill="none" stroke="#3a3a3a" stroke-width="0.7" stroke-linecap="square"/>
<text x="182.90" y="25.60">0.6</text>
<line x1="213.40" x2="234.40" y1="21.3" y2="21.3" stroke="#3a3a3a" stroke-width="0.6" stroke-dasharray="2.4 2.4"/>
<path d="M221.30 18.70L226.50 23.90M221.30 23.90L226.50 18.70" fill="none" stroke="#3a3a3a" stroke-width="0.7" stroke-linecap="square"/>
<text x="242.90" y="25.60">0.7</text>
<line x1="273.00" x2="294.40" y1="21.3" y2="21.3" stroke="#3a3a3a" stroke-width="0.6" stroke-dasharray="1 1"/>
<path d="M281.30 18.70L286.50 23.90M281.30 23.90L286.50 18.70M283.90 17.90V24.70" fill="none" stroke="#3a3a3a" stroke-width="0.7" stroke-linecap="square"/>
<text x="302.90" y="25.60">0.8</text>
<line x1="333.40" x2="354.40" y1="21.3" y2="21.3" stroke="#3a3a3a" stroke-width="0.6" stroke-dasharray="5.4 2.4 1 1.4 1 1.4 1 1.4 1 1.4 1 1.4 1 1.4"/>
<path d="M341.20 18.60h5.40v5.40h-5.40z" fill="none" stroke="#3a3a3a" stroke-width="0.7" stroke-linecap="square"/>
<text x="362.90" y="25.60">0.9</text>
</g>
</g>
<g id="chart-b">
<line x1="580.1" x2="996.7" y1="312.60" y2="312.60" stroke="#cfcfcf" stroke-width="1"/>
<line x1="580.1" x2="996.7" y1="275.94" y2="275.94" stroke="#cfcfcf" stroke-width="1"/>
<line x1="580.1" x2="996.7" y1="239.28" y2="239.28" stroke="#cfcfcf" stroke-width="1"/>
<line x1="580.1" x2="996.7" y1="202.62" y2="202.62" stroke="#cfcfcf" stroke-width="1"/>
<line x1="580.1" x2="996.7" y1="165.96" y2="165.96" stroke="#cfcfcf" stroke-width="1"/>
<line x1="580.1" x2="996.7" y1="129.30" y2="129.30" stroke="#cfcfcf" stroke-width="1"/>
<line x1="580.1" x2="996.7" y1="92.64" y2="92.64" stroke="#cfcfcf" stroke-width="1"/>
<line x1="580.1" x2="996.7" y1="55.98" y2="55.98" stroke="#cfcfcf" stroke-width="1"/>
<line x1="580.1" x2="996.7" y1="19.32" y2="19.32" stroke="#cfcfcf" stroke-width="1"/>
<g font-size="13.4" text-anchor="end">
<text x="572" y="317.20">0</text>
<text x="572" y="280.54">500</text>
<text x="572" y="243.88">1000</text>
<text x="572" y="207.22">1500</text>
<text x="572" y="170.56">2000</text>
<text x="572" y="133.90">2500</text>
<text x="572" y="97.24">3000</text>
<text x="572" y="60.58">3500</text>
<text x="572" y="23.92">4000</text>
</g>
<g font-size="13.4" text-anchor="middle">
<text x="581.90" y="331">0</text>
<text x="662.00" y="331">20</text>
<text x="742.10" y="331">40</text>
<text x="822.20" y="331">60</text>
<text x="902.30" y="331">80</text>
<text x="982.40" y="331">100</text>
<text x="788.5" y="350.6">node</text>
</g>
<text font-size="13.4" text-anchor="middle" textLength="129.8" lengthAdjust="spacingAndGlyphs" transform="translate(522 166.1) rotate(-90)">operational interval [s]</text>
<line x1="580.1" x2="996.7" y1="48.65" y2="48.65" stroke="#555" stroke-width="1" stroke-dasharray="3.7 1.9"/>
<polyline points="580.20,311.57 584.21,311.57 588.21,311.57 592.22,311.57 596.22,311.57 600.23,311.57 604.23,311.57 608.24,311.57 612.24,311.57 616.25,311.57 620.25,311.57 624.25,311.57 628.26,311.57 632.27,311.57 636.27,311.57 640.28,311.57 644.28,311.57 648.29,311.57 652.29,311.57 656.30,311.57 660.30,311.57 664.31,311.57 668.31,311.57 672.32,311.57 676.32,307.03 680.33,306.20 684.33,305.37 688.34,304.53 692.34,273.01 696.35,272.23 700.35,271.44 704.36,270.66 708.36,261.28 712.37,188.98 716.37,181.87 720.38,178.86 724.38,176.30 728.38,173.81 732.39,166.69 736.39,121.97 740.40,119.04 744.40,114.27 748.41,111.26 752.42,108.40 756.42,106.64 760.43,104.88 764.43,103.64 768.44,102.39 772.44,100.93 776.45,99.53 780.45,98.51 784.46,97.50 788.46,96.50 792.47,95.50 796.47,94.38 800.48,93.25 804.48,92.13 808.49,90.77 812.49,89.35 816.50,87.93 820.50,86.72 824.51,85.74 828.51,84.75 832.52,83.87 836.52,83.25 840.53,82.63 844.53,82.01 848.54,80.95 852.54,79.90 856.55,78.85 860.55,78.07 864.56,77.36 868.56,76.65 872.57,75.97 876.57,75.33 880.58,74.69 884.58,74.12 888.59,73.72 892.59,73.32 896.60,72.92 900.60,72.50 904.61,72.09 908.61,71.68 912.62,71.28 916.62,70.88 920.62,70.48 924.63,70.08 928.63,69.69 932.64,69.30 936.64,68.91 940.65,68.51 944.65,68.11 948.66,67.71 952.66,67.30 956.67,66.89 960.67,66.47 964.68,65.77 968.69,64.99 972.69,64.21 976.70,63.30 980.70,62.24 984.71,61.19 988.71,59.50 992.72,57.81 996.72,55.70 1000.73,53.41" fill="none" stroke="#111" stroke-width="0.7" stroke-dasharray="4 1.6"/>
<path d="M577.55 311.57H582.85M580.20 308.92V314.22M581.56 311.57H586.86M584.21 308.92V314.22M585.56 311.57H590.86M588.21 308.92V314.22M589.57 311.57H594.87M592.22 308.92V314.22M593.57 311.57H598.87M596.22 308.92V314.22M597.58 311.57H602.88M600.23 308.92V314.22M601.58 311.57H606.88M604.23 308.92V314.22M605.59 311.57H610.88M608.24 308.92V314.22M609.59 311.57H614.89M612.24 308.92V314.22M613.60 311.57H618.89M616.25 308.92V314.22M617.60 311.57H622.90M620.25 308.92V314.22M621.61 311.57H626.90M624.25 308.92V314.22M625.61 311.57H630.91M628.26 308.92V314.22M629.62 311.57H634.92M632.27 308.92V314.22M633.62 311.57H638.92M636.27 308.92V314.22M637.63 311.57H642.93M640.28 308.92V314.22M641.63 311.57H646.93M644.28 308.92V314.22M645.64 311.57H650.94M648.29 308.92V314.22M649.64 311.57H654.94M652.29 308.92V314.22M653.65 311.57H658.95M656.30 308.92V314.22M657.65 311.57H662.95M660.30 308.92V314.22M661.66 311.57H666.96M664.31 308.92V314.22M665.66 311.57H670.96M668.31 308.92V314.22M669.67 311.57H674.97M672.32 308.92V314.22M673.67 307.03H678.97M676.32 304.38V309.68M677.68 306.20H682.98M680.33 303.55V308.85M681.68 305.37H686.98M684.33 302.72V308.02M685.69 304.53H690.99M688.34 301.88V307.18M689.69 273.01H694.99M692.34 270.36V275.66M693.70 272.23H699.00M696.35 269.58V274.88M697.70 271.44H703.00M700.35 268.79V274.09M701.71 270.66H707.00M704.36 268.01V273.31M705.71 261.28H711.01M708.36 258.63V263.93M709.72 188.98H715.01M712.37 186.33V191.63M713.72 181.87H719.02M716.37 179.22V184.52M717.73 178.86H723.02M720.38 176.21V181.51M721.73 176.30H727.03M724.38 173.65V178.95M725.74 173.81H731.03M728.38 171.16V176.46M729.74 166.69H735.04M732.39 164.04V169.34M733.75 121.97H739.04M736.39 119.32V124.62M737.75 119.04H743.05M740.40 116.39V121.69M741.75 114.27H747.05M744.40 111.62V116.92M745.76 111.26H751.06M748.41 108.61V113.91M749.77 108.40H755.07M752.42 105.75V111.05M753.77 106.64H759.07M756.42 103.99V109.29M757.78 104.88H763.08M760.43 102.23V107.53M761.78 103.64H767.08M764.43 100.99V106.29M765.79 102.39H771.09M768.44 99.74V105.04M769.79 100.93H775.09M772.44 98.28V103.58M773.80 99.53H779.10M776.45 96.88V102.18M777.80 98.51H783.10M780.45 95.86V101.16M781.81 97.50H787.11M784.46 94.85V100.15M785.81 96.50H791.11M788.46 93.85V99.15M789.82 95.50H795.12M792.47 92.85V98.15M793.82 94.38H799.12M796.47 91.73V97.03M797.83 93.25H803.12M800.48 90.60V95.90M801.83 92.13H807.13M804.48 89.48V94.78M805.84 90.77H811.13M808.49 88.12V93.42M809.84 89.35H815.14M812.49 86.70V92.00M813.85 87.93H819.14M816.50 85.28V90.58M817.85 86.72H823.15M820.50 84.07V89.37M821.86 85.74H827.16M824.51 83.09V88.39M825.86 84.75H831.16M828.51 82.10V87.40M829.87 83.87H835.17M832.52 81.22V86.52M833.87 83.25H839.17M836.52 80.60V85.90M837.88 82.63H843.18M840.53 79.98V85.28M841.88 82.01H847.18M844.53 79.36V84.66M845.89 80.95H851.19M848.54 78.30V83.60M849.89 79.90H855.19M852.54 77.25V82.55M853.90 78.85H859.20M856.55 76.20V81.50M857.90 78.07H863.20M860.55 75.42V80.72M861.91 77.36H867.21M864.56 74.71V80.01M865.91 76.65H871.21M868.56 74.00V79.30M869.92 75.97H875.22M872.57 73.32V78.62M873.92 75.33H879.22M876.57 72.68V77.98M877.93 74.69H883.23M880.58 72.04V77.34M881.93 74.12H887.23M884.58 71.47V76.77M885.94 73.72H891.24M888.59 71.07V76.37M889.94 73.32H895.24M892.59 70.67V75.97M893.95 72.92H899.25M896.60 70.27V75.57M897.95 72.50H903.25M900.60 69.85V75.15M901.96 72.09H907.25M904.61 69.44V74.74M905.96 71.68H911.26M908.61 69.03V74.33M909.97 71.28H915.26M912.62 68.63V73.93M913.97 70.88H919.27M916.62 68.23V73.53M917.98 70.48H923.27M920.62 67.83V73.13M921.98 70.08H927.28M924.63 67.43V72.73M925.99 69.69H931.28M928.63 67.04V72.34M929.99 69.30H935.29M932.64 66.65V71.95M934.00 68.91H939.29M936.64 66.26V71.56M938.00 68.51H943.30M940.65 65.86V71.16M942.00 68.11H947.30M944.65 65.46V70.76M946.01 67.71H951.31M948.66 65.06V70.36M950.01 67.30H955.31M952.66 64.65V69.95M954.02 66.89H959.32M956.67 64.24V69.54M958.02 66.47H963.32M960.67 63.82V69.12M962.03 65.77H967.33M964.68 63.12V68.42M966.04 64.99H971.34M968.69 62.34V67.64M970.04 64.21H975.34M972.69 61.56V66.86M974.05 63.30H979.35M976.70 60.65V65.95M978.05 62.24H983.35M980.70 59.59V64.89M982.06 61.19H987.36M984.71 58.54V63.84M986.06 59.50H991.36M988.71 56.85V62.15M990.07 57.81H995.37M992.72 55.16V60.46M994.07 55.70H999.37M996.72 53.05V58.35M998.08 53.41H1003.38M1000.73 50.76V56.06" fill="none" stroke="#0a0a0a" stroke-width="0.9" stroke-linecap="square"/>
<polyline points="580.20,311.57 584.21,311.57 588.21,311.57 592.22,311.57 596.22,311.57 600.23,311.57 604.23,311.57 608.24,311.57 612.24,311.57 616.25,311.57 620.25,311.57 624.25,311.57 628.26,311.57 632.27,311.57 636.27,311.57 640.28,311.57 644.28,311.57 648.29,311.57 652.29,311.57 656.30,311.57 660.30,311.57 664.31,311.57 668.31,311.57 672.32,311.57 676.32,307.03 680.33,306.20 684.33,305.37 688.34,304.53 692.34,267.14 696.35,264.70 700.35,262.25 704.36,259.81 708.36,246.61 712.37,168.67 716.37,159.80 720.38,155.99 724.38,152.18 728.38,148.29 732.39,143.30 736.39,147.12 740.40,98.29 744.40,93.81 748.41,91.17 752.42,88.17 756.42,85.82 760.43,84.06 764.43,82.30 768.44,80.18 772.44,78.20 776.45,76.44 780.45,74.75 784.46,73.70 788.46,72.65 792.47,71.60 796.47,70.96 800.48,70.31 804.48,69.67 808.49,69.22 812.49,68.82 816.50,68.42 820.50,68.08 824.51,67.80 828.51,67.52 832.52,67.24 836.52,66.96 840.53,66.67 844.53,66.39 848.54,66.20 852.54,66.01 856.55,65.82 860.55,65.62 864.56,65.43 868.56,65.24 872.57,65.04 876.57,64.84 880.58,64.64 884.58,64.43 888.59,64.23 892.59,64.03 896.60,63.83 900.60,63.70 904.61,63.58 908.61,63.45 912.62,63.33 916.62,63.20 920.62,63.08 924.63,62.92 928.63,62.71 932.64,62.51 936.64,62.31 940.65,62.11 944.65,61.90 948.66,61.70 952.66,61.43 956.67,61.16 960.67,60.89 964.68,60.62 968.69,60.35 972.69,60.07 976.70,59.58 980.70,58.87 984.71,58.16 988.71,57.45 992.72,56.03 996.72,54.61 1000.73,53.19" fill="none" stroke="#111" stroke-width="0.7" stroke-dasharray="2.4 2.4"/>
<path d="M577.55 308.92L582.85 314.22M577.55 314.22L582.85 308.92M581.56 308.92L586.86 314.22M581.56 314.22L586.86 308.92M585.56 308.92L590.86 314.22M585.56 314.22L590.86 308.92M589.57 308.92L594.87 314.22M589.57 314.22L594.87 308.92M593.57 308.92L598.87 314.22M593.57 314.22L598.87 308.92M597.58 308.92L602.88 314.22M597.58 314.22L602.88 308.92M601.58 308.92L606.88 314.22M601.58 314.22L606.88 308.92M605.59 308.92L610.88 314.22M605.59 314.22L610.88 308.92M609.59 308.92L614.89 314.22M609.59 314.22L614.89 308.92M613.60 308.92L618.89 314.22M613.60 314.22L618.89 308.92M617.60 308.92L622.90 314.22M617.60 314.22L622.90 308.92M621.61 308.92L626.90 314.22M621.61 314.22L626.90 308.92M625.61 308.92L630.91 314.22M625.61 314.22L630.91 308.92M629.62 308.92L634.92 314.22M629.62 314.22L634.92 308.92M633.62 308.92L638.92 314.22M633.62 314.22L638.92 308.92M637.63 308.92L642.93 314.22M637.63 314.22L642.93 308.92M641.63 308.92L646.93 314.22M641.63 314.22L646.93 308.92M645.64 308.92L650.94 314.22M645.64 314.22L650.94 308.92M649.64 308.92L654.94 314.22M649.64 314.22L654.94 308.92M653.65 308.92L658.95 314.22M653.65 314.22L658.95 308.92M657.65 308.92L662.95 314.22M657.65 314.22L662.95 308.92M661.66 308.92L666.96 314.22M661.66 314.22L666.96 308.92M665.66 308.92L670.96 314.22M665.66 314.22L670.96 308.92M669.67 308.92L674.97 314.22M669.67 314.22L674.97 308.92M673.67 304.38L678.97 309.68M673.67 309.68L678.97 304.38M677.68 303.55L682.98 308.85M677.68 308.85L682.98 303.55M681.68 302.72L686.98 308.02M681.68 308.02L686.98 302.72M685.69 301.88L690.99 307.18M685.69 307.18L690.99 301.88M689.69 264.49L694.99 269.79M689.69 269.79L694.99 264.49M693.70 262.05L699.00 267.35M693.70 267.35L699.00 262.05M697.70 259.60L703.00 264.90M697.70 264.90L703.00 259.60M701.71 257.16L707.00 262.46M701.71 262.46L707.00 257.16M705.71 243.96L711.01 249.26M705.71 249.26L711.01 243.96M709.72 166.02L715.01 171.32M709.72 171.32L715.01 166.02M713.72 157.15L719.02 162.45M713.72 162.45L719.02 157.15M717.73 153.34L723.02 158.64M717.73 158.64L723.02 153.34M721.73 149.53L727.03 154.83M721.73 154.83L727.03 149.53M725.74 145.64L731.03 150.94M725.74 150.94L731.03 145.64M729.74 140.65L735.04 145.95M729.74 145.95L735.04 140.65M733.75 144.47L739.04 149.77M733.75 149.77L739.04 144.47M737.75 95.64L743.05 100.94M737.75 100.94L743.05 95.64M741.75 91.16L747.05 96.46M741.75 96.46L747.05 91.16M745.76 88.52L751.06 93.82M745.76 93.82L751.06 88.52M749.77 85.52L755.07 90.82M749.77 90.82L755.07 85.52M753.77 83.17L759.07 88.47M753.77 88.47L759.07 83.17M757.78 81.41L763.08 86.71M757.78 86.71L763.08 81.41M761.78 79.65L767.08 84.95M761.78 84.95L767.08 79.65M765.79 77.53L771.09 82.83M765.79 82.83L771.09 77.53M769.79 75.55L775.09 80.85M769.79 80.85L775.09 75.55M773.80 73.79L779.10 79.09M773.80 79.09L779.10 73.79M777.80 72.10L783.10 77.40M777.80 77.40L783.10 72.10M781.81 71.05L787.11 76.35M781.81 76.35L787.11 71.05M785.81 70.00L791.11 75.30M785.81 75.30L791.11 70.00M789.82 68.95L795.12 74.25M789.82 74.25L795.12 68.95M793.82 68.31L799.12 73.61M793.82 73.61L799.12 68.31M797.83 67.66L803.12 72.96M797.83 72.96L803.12 67.66M801.83 67.02L807.13 72.32M801.83 72.32L807.13 67.02M805.84 66.57L811.13 71.87M805.84 71.87L811.13 66.57M809.84 66.17L815.14 71.47M809.84 71.47L815.14 66.17M813.85 65.77L819.14 71.07M813.85 71.07L819.14 65.77M817.85 65.43L823.15 70.73M817.85 70.73L823.15 65.43M821.86 65.15L827.16 70.45M821.86 70.45L827.16 65.15M825.86 64.87L831.16 70.17M825.86 70.17L831.16 64.87M829.87 64.59L835.17 69.89M829.87 69.89L835.17 64.59M833.87 64.31L839.17 69.61M833.87 69.61L839.17 64.31M837.88 64.02L843.18 69.32M837.88 69.32L843.18 64.02M841.88 63.74L847.18 69.04M841.88 69.04L847.18 63.74M845.89 63.55L851.19 68.85M845.89 68.85L851.19 63.55M849.89 63.36L855.19 68.66M849.89 68.66L855.19 63.36M853.90 63.17L859.20 68.47M853.90 68.47L859.20 63.17M857.90 62.97L863.20 68.27M857.90 68.27L863.20 62.97M861.91 62.78L867.21 68.08M861.91 68.08L867.21 62.78M865.91 62.59L871.21 67.89M865.91 67.89L871.21 62.59M869.92 62.39L875.22 67.69M869.92 67.69L875.22 62.39M873.92 62.19L879.22 67.49M873.92 67.49L879.22 62.19M877.93 61.99L883.23 67.29M877.93 67.29L883.23 61.99M881.93 61.78L887.23 67.08M881.93 67.08L887.23 61.78M885.94 61.58L891.24 66.88M885.94 66.88L891.24 61.58M889.94 61.38L895.24 66.68M889.94 66.68L895.24 61.38M893.95 61.18L899.25 66.48M893.95 66.48L899.25 61.18M897.95 61.05L903.25 66.35M897.95 66.35L903.25 61.05M901.96 60.93L907.25 66.23M901.96 66.23L907.25 60.93M905.96 60.80L911.26 66.10M905.96 66.10L911.26 60.80M909.97 60.68L915.26 65.98M909.97 65.98L915.26 60.68M913.97 60.55L919.27 65.85M913.97 65.85L919.27 60.55M917.98 60.43L923.27 65.73M917.98 65.73L923.27 60.43M921.98 60.27L927.28 65.57M921.98 65.57L927.28 60.27M925.99 60.06L931.28 65.36M925.99 65.36L931.28 60.06M929.99 59.86L935.29 65.16M929.99 65.16L935.29 59.86M934.00 59.66L939.29 64.96M934.00 64.96L939.29 59.66M938.00 59.46L943.30 64.76M938.00 64.76L943.30 59.46M942.00 59.25L947.30 64.55M942.00 64.55L947.30 59.25M946.01 59.05L951.31 64.35M946.01 64.35L951.31 59.05M950.01 58.78L955.31 64.08M950.01 64.08L955.31 58.78M954.02 58.51L959.32 63.81M954.02 63.81L959.32 58.51M958.02 58.24L963.32 63.54M958.02 63.54L963.32 58.24M962.03 57.97L967.33 63.27M962.03 63.27L967.33 57.97M966.04 57.70L971.34 63.00M966.04 63.00L971.34 57.70M970.04 57.42L975.34 62.72M970.04 62.72L975.34 57.42M974.05 56.93L979.35 62.23M974.05 62.23L979.35 56.93M978.05 56.22L983.35 61.52M978.05 61.52L983.35 56.22M982.06 55.51L987.36 60.81M982.06 60.81L987.36 55.51M986.06 54.80L991.36 60.10M986.06 60.10L991.36 54.80M990.07 53.38L995.37 58.68M990.07 58.68L995.37 53.38M994.07 51.96L999.37 57.26M994.07 57.26L999.37 51.96M998.08 50.54L1003.38 55.84M998.08 55.84L1003.38 50.54" fill="none" stroke="#0a0a0a" stroke-width="0.9" stroke-linecap="square"/>
<polyline points="580.20,311.57 584.21,311.57 588.21,311.57 592.22,311.57 596.22,311.57 600.23,311.57 604.23,311.57 608.24,311.57 612.24,311.57 616.25,311.57 620.25,311.57 624.25,311.57 628.26,311.57 632.27,311.57 636.27,311.57 640.28,311.57 644.28,311.57 648.29,311.57 652.29,311.57 656.30,311.57 660.30,311.57 664.31,311.57 668.31,311.57 672.32,311.57 676.32,307.03 680.33,306.20 684.33,305.37 688.34,304.53 692.34,261.28 696.35,259.08 700.35,256.88 704.36,254.68 708.36,239.28 712.37,144.48 716.37,139.42 720.38,134.43 724.38,130.03 728.38,125.41 732.39,119.11 736.39,100.93 740.40,77.76 744.40,76.51 748.41,75.04 752.42,73.80 756.42,72.70 760.43,71.60 764.43,70.86 768.44,70.20 772.44,69.18 776.45,68.44 780.45,67.27 784.46,66.10 788.46,65.07 792.47,64.05 796.47,63.81 800.48,63.57 804.48,63.33 808.49,63.10 812.49,62.86 816.50,62.62 820.50,62.44 824.51,62.31 828.51,62.17 832.52,62.04 836.52,61.91 840.53,61.78 844.53,61.64 848.54,61.51 852.54,61.38 856.55,61.25 860.55,61.11 864.56,60.99 868.56,60.87 872.57,60.75 876.57,60.62 880.58,60.50 884.58,60.38 888.59,60.26 892.59,60.13 896.60,60.01 900.60,59.89 904.61,59.77 908.61,59.65 912.62,59.52 916.62,59.40 920.62,59.28 924.63,59.14 928.63,59.00 932.64,58.86 936.64,58.72 940.65,58.57 944.65,58.43 948.66,58.29 952.66,58.15 956.67,58.01 960.67,57.87 964.68,57.73 968.69,57.59 972.69,57.45 976.70,56.80 980.70,56.15 984.71,55.50 988.71,54.85 992.72,54.20 996.72,53.55 1000.73,52.90" fill="none" stroke="#111" stroke-width="0.7" stroke-dasharray="1 1"/>
<path d="M577.55 308.92L582.85 314.22M577.55 314.22L582.85 308.92M580.20 308.12V315.02M581.56 308.92L586.86 314.22M581.56 314.22L586.86 308.92M584.21 308.12V315.02M585.56 308.92L590.86 314.22M585.56 314.22L590.86 308.92M588.21 308.12V315.02M589.57 308.92L594.87 314.22M589.57 314.22L594.87 308.92M592.22 308.12V315.02M593.57 308.92L598.87 314.22M593.57 314.22L598.87 308.92M596.22 308.12V315.02M597.58 308.92L602.88 314.22M597.58 314.22L602.88 308.92M600.23 308.12V315.02M601.58 308.92L606.88 314.22M601.58 314.22L606.88 308.92M604.23 308.12V315.02M605.59 308.92L610.88 314.22M605.59 314.22L610.88 308.92M608.24 308.12V315.02M609.59 308.92L614.89 314.22M609.59 314.22L614.89 308.92M612.24 308.12V315.02M613.60 308.92L618.89 314.22M613.60 314.22L618.89 308.92M616.25 308.12V315.02M617.60 308.92L622.90 314.22M617.60 314.22L622.90 308.92M620.25 308.12V315.02M621.61 308.92L626.90 314.22M621.61 314.22L626.90 308.92M624.25 308.12V315.02M625.61 308.92L630.91 314.22M625.61 314.22L630.91 308.92M628.26 308.12V315.02M629.62 308.92L634.92 314.22M629.62 314.22L634.92 308.92M632.27 308.12V315.02M633.62 308.92L638.92 314.22M633.62 314.22L638.92 308.92M636.27 308.12V315.02M637.63 308.92L642.93 314.22M637.63 314.22L642.93 308.92M640.28 308.12V315.02M641.63 308.92L646.93 314.22M641.63 314.22L646.93 308.92M644.28 308.12V315.02M645.64 308.92L650.94 314.22M645.64 314.22L650.94 308.92M648.29 308.12V315.02M649.64 308.92L654.94 314.22M649.64 314.22L654.94 308.92M652.29 308.12V315.02M653.65 308.92L658.95 314.22M653.65 314.22L658.95 308.92M656.30 308.12V315.02M657.65 308.92L662.95 314.22M657.65 314.22L662.95 308.92M660.30 308.12V315.02M661.66 308.92L666.96 314.22M661.66 314.22L666.96 308.92M664.31 308.12V315.02M665.66 308.92L670.96 314.22M665.66 314.22L670.96 308.92M668.31 308.12V315.02M669.67 308.92L674.97 314.22M669.67 314.22L674.97 308.92M672.32 308.12V315.02M673.67 304.38L678.97 309.68M673.67 309.68L678.97 304.38M676.32 303.58V310.48M677.68 303.55L682.98 308.85M677.68 308.85L682.98 303.55M680.33 302.75V309.65M681.68 302.72L686.98 308.02M681.68 308.02L686.98 302.72M684.33 301.92V308.82M685.69 301.88L690.99 307.18M685.69 307.18L690.99 301.88M688.34 301.08V307.98M689.69 258.63L694.99 263.93M689.69 263.93L694.99 258.63M692.34 257.83V264.73M693.70 256.43L699.00 261.73M693.70 261.73L699.00 256.43M696.35 255.63V262.53M697.70 254.23L703.00 259.53M697.70 259.53L703.00 254.23M700.35 253.43V260.33M701.71 252.03L707.00 257.33M701.71 257.33L707.00 252.03M704.36 251.23V258.13M705.71 236.63L711.01 241.93M705.71 241.93L711.01 236.63M708.36 235.83V242.73M709.72 141.83L715.01 147.13M709.72 147.13L715.01 141.83M712.37 141.03V147.93M713.72 136.77L719.02 142.07M713.72 142.07L719.02 136.77M716.37 135.97V142.87M717.73 131.78L723.02 137.08M717.73 137.08L723.02 131.78M720.38 130.98V137.88M721.73 127.38L727.03 132.68M721.73 132.68L727.03 127.38M724.38 126.58V133.48M725.74 122.76L731.03 128.06M725.74 128.06L731.03 122.76M728.38 121.96V128.86M729.74 116.46L735.04 121.76M729.74 121.76L735.04 116.46M732.39 115.66V122.56M733.75 98.28L739.04 103.58M733.75 103.58L739.04 98.28M736.39 97.48V104.38M737.75 75.11L743.05 80.41M737.75 80.41L743.05 75.11M740.40 74.31V81.21M741.75 73.86L747.05 79.16M741.75 79.16L747.05 73.86M744.40 73.06V79.96M745.76 72.39L751.06 77.69M745.76 77.69L751.06 72.39M748.41 71.59V78.49M749.77 71.15L755.07 76.45M749.77 76.45L755.07 71.15M752.42 70.35V77.25M753.77 70.05L759.07 75.35M753.77 75.35L759.07 70.05M756.42 69.25V76.15M757.78 68.95L763.08 74.25M757.78 74.25L763.08 68.95M760.43 68.15V75.05M761.78 68.21L767.08 73.51M761.78 73.51L767.08 68.21M764.43 67.41V74.31M765.79 67.55L771.09 72.85M765.79 72.85L771.09 67.55M768.44 66.75V73.65M769.79 66.53L775.09 71.83M769.79 71.83L775.09 66.53M772.44 65.73V72.63M773.80 65.79L779.10 71.09M773.80 71.09L779.10 65.79M776.45 64.99V71.89M777.80 64.62L783.10 69.92M777.80 69.92L783.10 64.62M780.45 63.82V70.72M781.81 63.45L787.11 68.75M781.81 68.75L787.11 63.45M784.46 62.65V69.55M785.81 62.42L791.11 67.72M785.81 67.72L791.11 62.42M788.46 61.62V68.52M789.82 61.40L795.12 66.70M789.82 66.70L795.12 61.40M792.47 60.60V67.50M793.82 61.16L799.12 66.46M793.82 66.46L799.12 61.16M796.47 60.36V67.26M797.83 60.92L803.12 66.22M797.83 66.22L803.12 60.92M800.48 60.12V67.02M801.83 60.68L807.13 65.98M801.83 65.98L807.13 60.68M804.48 59.88V66.78M805.84 60.45L811.13 65.75M805.84 65.75L811.13 60.45M808.49 59.65V66.55M809.84 60.21L815.14 65.51M809.84 65.51L815.14 60.21M812.49 59.41V66.31M813.85 59.97L819.14 65.27M813.85 65.27L819.14 59.97M816.50 59.17V66.07M817.85 59.79L823.15 65.09M817.85 65.09L823.15 59.79M820.50 58.99V65.89M821.86 59.66L827.16 64.96M821.86 64.96L827.16 59.66M824.51 58.86V65.76M825.86 59.52L831.16 64.82M825.86 64.82L831.16 59.52M828.51 58.72V65.62M829.87 59.39L835.17 64.69M829.87 64.69L835.17 59.39M832.52 58.59V65.49M833.87 59.26L839.17 64.56M833.87 64.56L839.17 59.26M836.52 58.46V65.36M837.88 59.13L843.18 64.43M837.88 64.43L843.18 59.13M840.53 58.33V65.23M841.88 58.99L847.18 64.29M841.88 64.29L847.18 58.99M844.53 58.19V65.09M845.89 58.86L851.19 64.16M845.89 64.16L851.19 58.86M848.54 58.06V64.96M849.89 58.73L855.19 64.03M849.89 64.03L855.19 58.73M852.54 57.93V64.83M853.90 58.60L859.20 63.90M853.90 63.90L859.20 58.60M856.55 57.80V64.70M857.90 58.46L863.20 63.76M857.90 63.76L863.20 58.46M860.55 57.66V64.56M861.91 58.34L867.21 63.64M861.91 63.64L867.21 58.34M864.56 57.54V64.44M865.91 58.22L871.21 63.52M865.91 63.52L871.21 58.22M868.56 57.42V64.32M869.92 58.10L875.22 63.40M869.92 63.40L875.22 58.10M872.57 57.30V64.20M873.92 57.97L879.22 63.27M873.92 63.27L879.22 57.97M876.57 57.17V64.07M877.93 57.85L883.23 63.15M877.93 63.15L883.23 57.85M880.58 57.05V63.95M881.93 57.73L887.23 63.03M881.93 63.03L887.23 57.73M884.58 56.93V63.83M885.94 57.61L891.24 62.91M885.94 62.91L891.24 57.61M888.59 56.81V63.71M889.94 57.48L895.24 62.78M889.94 62.78L895.24 57.48M892.59 56.68V63.58M893.95 57.36L899.25 62.66M893.95 62.66L899.25 57.36M896.60 56.56V63.46M897.95 57.24L903.25 62.54M897.95 62.54L903.25 57.24M900.60 56.44V63.34M901.96 57.12L907.25 62.42M901.96 62.42L907.25 57.12M904.61 56.32V63.22M905.96 57.00L911.26 62.30M905.96 62.30L911.26 57.00M908.61 56.20V63.10M909.97 56.87L915.26 62.17M909.97 62.17L915.26 56.87M912.62 56.07V62.97M913.97 56.75L919.27 62.05M913.97 62.05L919.27 56.75M916.62 55.95V62.85M917.98 56.63L923.27 61.93M917.98 61.93L923.27 56.63M920.62 55.83V62.73M921.98 56.49L927.28 61.79M921.98 61.79L927.28 56.49M924.63 55.69V62.59M925.99 56.35L931.28 61.65M925.99 61.65L931.28 56.35M928.63 55.55V62.45M929.99 56.21L935.29 61.51M929.99 61.51L935.29 56.21M932.64 55.41V62.31M934.00 56.07L939.29 61.37M934.00 61.37L939.29 56.07M936.64 55.27V62.17M938.00 55.92L943.30 61.22M938.00 61.22L943.30 55.92M940.65 55.12V62.02M942.00 55.78L947.30 61.08M942.00 61.08L947.30 55.78M944.65 54.98V61.88M946.01 55.64L951.31 60.94M946.01 60.94L951.31 55.64M948.66 54.84V61.74M950.01 55.50L955.31 60.80M950.01 60.80L955.31 55.50M952.66 54.70V61.60M954.02 55.36L959.32 60.66M954.02 60.66L959.32 55.36M956.67 54.56V61.46M958.02 55.22L963.32 60.52M958.02 60.52L963.32 55.22M960.67 54.42V61.32M962.03 55.08L967.33 60.38M962.03 60.38L967.33 55.08M964.68 54.28V61.18M966.04 54.94L971.34 60.24M966.04 60.24L971.34 54.94M968.69 54.14V61.04M970.04 54.80L975.34 60.10M970.04 60.10L975.34 54.80M972.69 54.00V60.90M974.05 54.15L979.35 59.45M974.05 59.45L979.35 54.15M976.70 53.35V60.25M978.05 53.50L983.35 58.80M978.05 58.80L983.35 53.50M980.70 52.70V59.60M982.06 52.85L987.36 58.15M982.06 58.15L987.36 52.85M984.71 52.05V58.95M986.06 52.20L991.36 57.50M986.06 57.50L991.36 52.20M988.71 51.40V58.30M990.07 51.55L995.37 56.85M990.07 56.85L995.37 51.55M992.72 50.75V57.65M994.07 50.90L999.37 56.20M994.07 56.20L999.37 50.90M996.72 50.10V57.00M998.08 50.25L1003.38 55.55M998.08 55.55L1003.38 50.25M1000.73 49.45V56.35" fill="none" stroke="#0a0a0a" stroke-width="0.9" stroke-linecap="square"/>
<polyline points="580.20,311.57 584.21,311.57 588.21,311.57 592.22,311.57 596.22,311.57 600.23,311.57 604.23,311.57 608.24,311.57 612.24,311.57 616.25,311.57 620.25,311.57 624.25,311.57 628.26,311.57 632.27,311.57 636.27,311.57 640.28,311.57 644.28,311.57 648.29,311.57 652.29,311.57 656.30,311.57 660.30,311.57 664.31,311.57 668.31,311.57 672.32,311.57 676.32,307.03 680.33,306.20 684.33,305.37 688.34,304.53 692.34,256.58 696.35,255.04 700.35,253.50 704.36,251.96 708.36,229.02 712.37,117.13 716.37,113.54 720.38,110.09 724.38,106.57 728.38,103.20 732.39,99.83 736.39,90.15 740.40,67.34 744.40,66.61 748.41,65.88 752.42,65.32 756.42,64.75 760.43,64.19 764.43,63.94 768.44,63.69 772.44,63.44 776.45,63.19 780.45,62.95 784.46,62.73 788.46,62.51 792.47,62.29 796.47,62.07 800.48,61.85 804.48,61.69 808.49,61.53 812.49,61.38 816.50,61.22 820.50,61.06 824.51,60.91 828.51,60.75 832.52,60.59 836.52,60.44 840.53,60.28 844.53,60.13 848.54,59.97 852.54,59.81 856.55,59.66 860.55,59.50 864.56,59.39 868.56,59.27 872.57,59.16 876.57,59.05 880.58,58.94 884.58,58.82 888.59,58.71 892.59,58.60 896.60,58.49 900.60,58.38 904.61,58.26 908.61,58.15 912.62,58.04 916.62,57.93 920.62,57.81 924.63,57.66 928.63,57.50 932.64,57.34 936.64,57.18 940.65,57.02 944.65,56.87 948.66,56.71 952.66,56.55 956.67,56.39 960.67,56.23 964.68,56.08 968.69,55.92 972.69,55.76 976.70,55.29 980.70,54.82 984.71,54.35 988.71,53.87 992.72,53.40 996.72,52.93 1000.73,52.46" fill="none" stroke="#111" stroke-width="0.7" stroke-dasharray="5.4 2.4 1 1.4 1 1.4 1 1.4 1 1.4 1 1.4 1 1.4"/>
<path d="M577.45 308.82h5.50v5.50h-5.50zM581.46 308.82h5.50v5.50h-5.50zM585.46 308.82h5.50v5.50h-5.50zM589.47 308.82h5.50v5.50h-5.50zM593.47 308.82h5.50v5.50h-5.50zM597.48 308.82h5.50v5.50h-5.50zM601.48 308.82h5.50v5.50h-5.50zM605.49 308.82h5.50v5.50h-5.50zM609.49 308.82h5.50v5.50h-5.50zM613.50 308.82h5.50v5.50h-5.50zM617.50 308.82h5.50v5.50h-5.50zM621.50 308.82h5.50v5.50h-5.50zM625.51 308.82h5.50v5.50h-5.50zM629.52 308.82h5.50v5.50h-5.50zM633.52 308.82h5.50v5.50h-5.50zM637.53 308.82h5.50v5.50h-5.50zM641.53 308.82h5.50v5.50h-5.50zM645.54 308.82h5.50v5.50h-5.50zM649.54 308.82h5.50v5.50h-5.50zM653.55 308.82h5.50v5.50h-5.50zM657.55 308.82h5.50v5.50h-5.50zM661.56 308.82h5.50v5.50h-5.50zM665.56 308.82h5.50v5.50h-5.50zM669.57 308.82h5.50v5.50h-5.50zM673.57 304.28h5.50v5.50h-5.50zM677.58 303.45h5.50v5.50h-5.50zM681.58 302.62h5.50v5.50h-5.50zM685.59 301.78h5.50v5.50h-5.50zM689.59 253.83h5.50v5.50h-5.50zM693.60 252.29h5.50v5.50h-5.50zM697.60 250.75h5.50v5.50h-5.50zM701.61 249.21h5.50v5.50h-5.50zM705.61 226.27h5.50v5.50h-5.50zM709.62 114.38h5.50v5.50h-5.50zM713.62 110.79h5.50v5.50h-5.50zM717.62 107.34h5.50v5.50h-5.50zM721.63 103.82h5.50v5.50h-5.50zM725.63 100.45h5.50v5.50h-5.50zM729.64 97.08h5.50v5.50h-5.50zM733.64 87.40h5.50v5.50h-5.50zM737.65 64.59h5.50v5.50h-5.50zM741.65 63.86h5.50v5.50h-5.50zM745.66 63.13h5.50v5.50h-5.50zM749.67 62.57h5.50v5.50h-5.50zM753.67 62.00h5.50v5.50h-5.50zM757.68 61.44h5.50v5.50h-5.50zM761.68 61.19h5.50v5.50h-5.50zM765.69 60.94h5.50v5.50h-5.50zM769.69 60.69h5.50v5.50h-5.50zM773.70 60.44h5.50v5.50h-5.50zM777.70 60.20h5.50v5.50h-5.50zM781.71 59.98h5.50v5.50h-5.50zM785.71 59.76h5.50v5.50h-5.50zM789.72 59.54h5.50v5.50h-5.50zM793.72 59.32h5.50v5.50h-5.50zM797.73 59.10h5.50v5.50h-5.50zM801.73 58.94h5.50v5.50h-5.50zM805.74 58.78h5.50v5.50h-5.50zM809.74 58.63h5.50v5.50h-5.50zM813.75 58.47h5.50v5.50h-5.50zM817.75 58.31h5.50v5.50h-5.50zM821.76 58.16h5.50v5.50h-5.50zM825.76 58.00h5.50v5.50h-5.50zM829.77 57.84h5.50v5.50h-5.50zM833.77 57.69h5.50v5.50h-5.50zM837.78 57.53h5.50v5.50h-5.50zM841.78 57.38h5.50v5.50h-5.50zM845.79 57.22h5.50v5.50h-5.50zM849.79 57.06h5.50v5.50h-5.50zM853.80 56.91h5.50v5.50h-5.50zM857.80 56.75h5.50v5.50h-5.50zM861.81 56.64h5.50v5.50h-5.50zM865.81 56.52h5.50v5.50h-5.50zM869.82 56.41h5.50v5.50h-5.50zM873.82 56.30h5.50v5.50h-5.50zM877.83 56.19h5.50v5.50h-5.50zM881.83 56.07h5.50v5.50h-5.50zM885.84 55.96h5.50v5.50h-5.50zM889.84 55.85h5.50v5.50h-5.50zM893.85 55.74h5.50v5.50h-5.50zM897.85 55.63h5.50v5.50h-5.50zM901.86 55.51h5.50v5.50h-5.50zM905.86 55.40h5.50v5.50h-5.50zM909.87 55.29h5.50v5.50h-5.50zM913.87 55.18h5.50v5.50h-5.50zM917.88 55.06h5.50v5.50h-5.50zM921.88 54.91h5.50v5.50h-5.50zM925.88 54.75h5.50v5.50h-5.50zM929.89 54.59h5.50v5.50h-5.50zM933.89 54.43h5.50v5.50h-5.50zM937.90 54.27h5.50v5.50h-5.50zM941.90 54.12h5.50v5.50h-5.50zM945.91 53.96h5.50v5.50h-5.50zM949.91 53.80h5.50v5.50h-5.50zM953.92 53.64h5.50v5.50h-5.50zM957.92 53.48h5.50v5.50h-5.50zM961.93 53.33h5.50v5.50h-5.50zM965.94 53.17h5.50v5.50h-5.50zM969.94 53.01h5.50v5.50h-5.50zM973.95 52.54h5.50v5.50h-5.50zM977.95 52.07h5.50v5.50h-5.50zM981.96 51.60h5.50v5.50h-5.50zM985.96 51.12h5.50v5.50h-5.50zM989.97 50.65h5.50v5.50h-5.50zM993.97 50.18h5.50v5.50h-5.50zM997.98 49.71h5.50v5.50h-5.50z" fill="#fff" fill-opacity="0" stroke="#0a0a0a" stroke-width="0.9" stroke-linecap="square"/>
<polyline points="580.20,311.57 584.21,311.57 588.21,311.57 592.22,311.57 596.22,311.57 600.23,311.57 604.23,311.57 608.24,311.57 612.24,311.57 616.25,311.57 620.25,311.57 624.25,311.57 628.26,311.57 632.27,311.57 636.27,311.57 640.28,311.57 644.28,311.57 648.29,311.57 652.29,311.57 656.30,311.57 660.30,311.57 664.31,311.57 668.31,311.57 672.32,311.57 676.32,307.03 680.33,306.15 684.33,305.27 688.34,299.18 692.34,228.28 696.35,226.82 700.35,220.58 704.36,218.90 708.36,181.50 712.37,67.49 716.37,66.61 720.38,65.88 724.38,65.15 728.38,64.63 732.39,64.05 736.39,63.39 740.40,62.43 744.40,62.20 748.41,61.96 752.42,61.73 756.42,61.49 760.43,61.26 764.43,61.17 768.44,61.07 772.44,60.98 776.45,60.88 780.45,60.79 784.46,60.70 788.46,60.60 792.47,60.51 796.47,60.41 800.48,60.32 804.48,60.23 808.49,60.13 812.49,60.04 816.50,59.95 820.50,59.85 824.51,59.76 828.51,59.66 832.52,59.57 836.52,59.48 840.53,59.38 844.53,59.29 848.54,59.19 852.54,59.10 856.55,59.01 860.55,58.91 864.56,58.81 868.56,58.70 872.57,58.60 876.57,58.49 880.58,58.38 884.58,58.28 888.59,58.17 892.59,58.07 896.60,57.96 900.60,57.86 904.61,57.75 908.61,57.65 912.62,57.54 916.62,57.43 920.62,57.33 924.63,57.22 928.63,57.12 932.64,57.01 936.64,56.91 940.65,56.80 944.65,56.70 948.66,56.59 952.66,56.48 956.67,56.38 960.67,56.27 964.68,56.08 968.69,55.89 972.69,55.70 976.70,55.51 980.70,55.32 984.71,54.79 988.71,54.26 992.72,53.74 996.72,53.21 1000.73,52.68" fill="none" stroke="#111" stroke-width="0.7" stroke-dasharray="1.6 1.3"/>
<path d="M577.35 311.57a2.85 2.85 0 1 0 5.70 0a2.85 2.85 0 1 0 -5.70 0zM581.36 311.57a2.85 2.85 0 1 0 5.70 0a2.85 2.85 0 1 0 -5.70 0zM585.36 311.57a2.85 2.85 0 1 0 5.70 0a2.85 2.85 0 1 0 -5.70 0zM589.37 311.57a2.85 2.85 0 1 0 5.70 0a2.85 2.85 0 1 0 -5.70 0zM593.37 311.57a2.85 2.85 0 1 0 5.70 0a2.85 2.85 0 1 0 -5.70 0zM597.38 311.57a2.85 2.85 0 1 0 5.70 0a2.85 2.85 0 1 0 -5.70 0zM601.38 311.57a2.85 2.85 0 1 0 5.70 0a2.85 2.85 0 1 0 -5.70 0zM605.38 311.57a2.85 2.85 0 1 0 5.70 0a2.85 2.85 0 1 0 -5.70 0zM609.39 311.57a2.85 2.85 0 1 0 5.70 0a2.85 2.85 0 1 0 -5.70 0zM613.39 311.57a2.85 2.85 0 1 0 5.70 0a2.85 2.85 0 1 0 -5.70 0zM617.40 311.57a2.85 2.85 0 1 0 5.70 0a2.85 2.85 0 1 0 -5.70 0zM621.40 311.57a2.85 2.85 0 1 0 5.70 0a2.85 2.85 0 1 0 -5.70 0zM625.41 311.57a2.85 2.85 0 1 0 5.70 0a2.85 2.85 0 1 0 -5.70 0zM629.42 311.57a2.85 2.85 0 1 0 5.70 0a2.85 2.85 0 1 0 -5.70 0zM633.42 311.57a2.85 2.85 0 1 0 5.70 0a2.85 2.85 0 1 0 -5.70 0zM637.43 311.57a2.85 2.85 0 1 0 5.70 0a2.85 2.85 0 1 0 -5.70 0zM641.43 311.57a2.85 2.85 0 1 0 5.70 0a2.85 2.85 0 1 0 -5.70 0zM645.44 311.57a2.85 2.85 0 1 0 5.70 0a2.85 2.85 0 1 0 -5.70 0zM649.44 311.57a2.85 2.85 0 1 0 5.70 0a2.85 2.85 0 1 0 -5.70 0zM653.45 311.57a2.85 2.85 0 1 0 5.70 0a2.85 2.85 0 1 0 -5.70 0zM657.45 311.57a2.85 2.85 0 1 0 5.70 0a2.85 2.85 0 1 0 -5.70 0zM661.46 311.57a2.85 2.85 0 1 0 5.70 0a2.85 2.85 0 1 0 -5.70 0zM665.46 311.57a2.85 2.85 0 1 0 5.70 0a2.85 2.85 0 1 0 -5.70 0zM669.47 311.57a2.85 2.85 0 1 0 5.70 0a2.85 2.85 0 1 0 -5.70 0zM673.47 307.03a2.85 2.85 0 1 0 5.70 0a2.85 2.85 0 1 0 -5.70 0zM677.48 306.15a2.85 2.85 0 1 0 5.70 0a2.85 2.85 0 1 0 -5.70 0zM681.48 305.27a2.85 2.85 0 1 0 5.70 0a2.85 2.85 0 1 0 -5.70 0zM685.49 299.18a2.85 2.85 0 1 0 5.70 0a2.85 2.85 0 1 0 -5.70 0zM689.49 228.28a2.85 2.85 0 1 0 5.70 0a2.85 2.85 0 1 0 -5.70 0zM693.50 226.82a2.85 2.85 0 1 0 5.70 0a2.85 2.85 0 1 0 -5.70 0zM697.50 220.58a2.85 2.85 0 1 0 5.70 0a2.85 2.85 0 1 0 -5.70 0zM701.50 218.90a2.85 2.85 0 1 0 5.70 0a2.85 2.85 0 1 0 -5.70 0zM705.51 181.50a2.85 2.85 0 1 0 5.70 0a2.85 2.85 0 1 0 -5.70 0zM709.51 67.49a2.85 2.85 0 1 0 5.70 0a2.85 2.85 0 1 0 -5.70 0zM713.52 66.61a2.85 2.85 0 1 0 5.70 0a2.85 2.85 0 1 0 -5.70 0zM717.52 65.88a2.85 2.85 0 1 0 5.70 0a2.85 2.85 0 1 0 -5.70 0zM721.53 65.15a2.85 2.85 0 1 0 5.70 0a2.85 2.85 0 1 0 -5.70 0zM725.53 64.63a2.85 2.85 0 1 0 5.70 0a2.85 2.85 0 1 0 -5.70 0zM729.54 64.05a2.85 2.85 0 1 0 5.70 0a2.85 2.85 0 1 0 -5.70 0zM733.54 63.39a2.85 2.85 0 1 0 5.70 0a2.85 2.85 0 1 0 -5.70 0zM737.55 62.43a2.85 2.85 0 1 0 5.70 0a2.85 2.85 0 1 0 -5.70 0zM741.55 62.20a2.85 2.85 0 1 0 5.70 0a2.85 2.85 0 1 0 -5.70 0zM745.56 61.96a2.85 2.85 0 1 0 5.70 0a2.85 2.85 0 1 0 -5.70 0zM749.57 61.73a2.85 2.85 0 1 0 5.70 0a2.85 2.85 0 1 0 -5.70 0zM753.57 61.49a2.85 2.85 0 1 0 5.70 0a2.85 2.85 0 1 0 -5.70 0zM757.58 61.26a2.85 2.85 0 1 0 5.70 0a2.85 2.85 0 1 0 -5.70 0zM761.58 61.17a2.85 2.85 0 1 0 5.70 0a2.85 2.85 0 1 0 -5.70 0zM765.59 61.07a2.85 2.85 0 1 0 5.70 0a2.85 2.85 0 1 0 -5.70 0zM769.59 60.98a2.85 2.85 0 1 0 5.70 0a2.85 2.85 0 1 0 -5.70 0zM773.60 60.88a2.85 2.85 0 1 0 5.70 0a2.85 2.85 0 1 0 -5.70 0zM777.60 60.79a2.85 2.85 0 1 0 5.70 0a2.85 2.85 0 1 0 -5.70 0zM781.61 60.70a2.85 2.85 0 1 0 5.70 0a2.85 2.85 0 1 0 -5.70 0zM785.61 60.60a2.85 2.85 0 1 0 5.70 0a2.85 2.85 0 1 0 -5.70 0zM789.62 60.51a2.85 2.85 0 1 0 5.70 0a2.85 2.85 0 1 0 -5.70 0zM793.62 60.41a2.85 2.85 0 1 0 5.70 0a2.85 2.85 0 1 0 -5.70 0zM797.62 60.32a2.85 2.85 0 1 0 5.70 0a2.85 2.85 0 1 0 -5.70 0zM801.63 60.23a2.85 2.85 0 1 0 5.70 0a2.85 2.85 0 1 0 -5.70 0zM805.63 60.13a2.85 2.85 0 1 0 5.70 0a2.85 2.85 0 1 0 -5.70 0zM809.64 60.04a2.85 2.85 0 1 0 5.70 0a2.85 2.85 0 1 0 -5.70 0zM813.64 59.95a2.85 2.85 0 1 0 5.70 0a2.85 2.85 0 1 0 -5.70 0zM817.65 59.85a2.85 2.85 0 1 0 5.70 0a2.85 2.85 0 1 0 -5.70 0zM821.66 59.76a2.85 2.85 0 1 0 5.70 0a2.85 2.85 0 1 0 -5.70 0zM825.66 59.66a2.85 2.85 0 1 0 5.70 0a2.85 2.85 0 1 0 -5.70 0zM829.67 59.57a2.85 2.85 0 1 0 5.70 0a2.85 2.85 0 1 0 -5.70 0zM833.67 59.48a2.85 2.85 0 1 0 5.70 0a2.85 2.85 0 1 0 -5.70 0zM837.68 59.38a2.85 2.85 0 1 0 5.70 0a2.85 2.85 0 1 0 -5.70 0zM841.68 59.29a2.85 2.85 0 1 0 5.70 0a2.85 2.85 0 1 0 -5.70 0zM845.69 59.19a2.85 2.85 0 1 0 5.70 0a2.85 2.85 0 1 0 -5.70 0zM849.69 59.10a2.85 2.85 0 1 0 5.70 0a2.85 2.85 0 1 0 -5.70 0zM853.70 59.01a2.85 2.85 0 1 0 5.70 0a2.85 2.85 0 1 0 -5.70 0zM857.70 58.91a2.85 2.85 0 1 0 5.70 0a2.85 2.85 0 1 0 -5.70 0zM861.71 58.81a2.85 2.85 0 1 0 5.70 0a2.85 2.85 0 1 0 -5.70 0zM865.71 58.70a2.85 2.85 0 1 0 5.70 0a2.85 2.85 0 1 0 -5.70 0zM869.72 58.60a2.85 2.85 0 1 0 5.70 0a2.85 2.85 0 1 0 -5.70 0zM873.72 58.49a2.85 2.85 0 1 0 5.70 0a2.85 2.85 0 1 0 -5.70 0zM877.73 58.38a2.85 2.85 0 1 0 5.70 0a2.85 2.85 0 1 0 -5.70 0zM881.73 58.28a2.85 2.85 0 1 0 5.70 0a2.85 2.85 0 1 0 -5.70 0zM885.74 58.17a2.85 2.85 0 1 0 5.70 0a2.85 2.85 0 1 0 -5.70 0zM889.74 58.07a2.85 2.85 0 1 0 5.70 0a2.85 2.85 0 1 0 -5.70 0zM893.75 57.96a2.85 2.85 0 1 0 5.70 0a2.85 2.85 0 1 0 -5.70 0zM897.75 57.86a2.85 2.85 0 1 0 5.70 0a2.85 2.85 0 1 0 -5.70 0zM901.75 57.75a2.85 2.85 0 1 0 5.70 0a2.85 2.85 0 1 0 -5.70 0zM905.76 57.65a2.85 2.85 0 1 0 5.70 0a2.85 2.85 0 1 0 -5.70 0zM909.76 57.54a2.85 2.85 0 1 0 5.70 0a2.85 2.85 0 1 0 -5.70 0zM913.77 57.43a2.85 2.85 0 1 0 5.70 0a2.85 2.85 0 1 0 -5.70 0zM917.77 57.33a2.85 2.85 0 1 0 5.70 0a2.85 2.85 0 1 0 -5.70 0zM921.78 57.22a2.85 2.85 0 1 0 5.70 0a2.85 2.85 0 1 0 -5.70 0zM925.78 57.12a2.85 2.85 0 1 0 5.70 0a2.85 2.85 0 1 0 -5.70 0zM929.79 57.01a2.85 2.85 0 1 0 5.70 0a2.85 2.85 0 1 0 -5.70 0zM933.79 56.91a2.85 2.85 0 1 0 5.70 0a2.85 2.85 0 1 0 -5.70 0zM937.80 56.80a2.85 2.85 0 1 0 5.70 0a2.85 2.85 0 1 0 -5.70 0zM941.80 56.70a2.85 2.85 0 1 0 5.70 0a2.85 2.85 0 1 0 -5.70 0zM945.81 56.59a2.85 2.85 0 1 0 5.70 0a2.85 2.85 0 1 0 -5.70 0zM949.81 56.48a2.85 2.85 0 1 0 5.70 0a2.85 2.85 0 1 0 -5.70 0zM953.82 56.38a2.85 2.85 0 1 0 5.70 0a2.85 2.85 0 1 0 -5.70 0zM957.82 56.27a2.85 2.85 0 1 0 5.70 0a2.85 2.85 0 1 0 -5.70 0zM961.83 56.08a2.85 2.85 0 1 0 5.70 0a2.85 2.85 0 1 0 -5.70 0zM965.84 55.89a2.85 2.85 0 1 0 5.70 0a2.85 2.85 0 1 0 -5.70 0zM969.84 55.70a2.85 2.85 0 1 0 5.70 0a2.85 2.85 0 1 0 -5.70 0zM973.85 55.51a2.85 2.85 0 1 0 5.70 0a2.85 2.85 0 1 0 -5.70 0zM977.85 55.32a2.85 2.85 0 1 0 5.70 0a2.85 2.85 0 1 0 -5.70 0zM981.86 54.79a2.85 2.85 0 1 0 5.70 0a2.85 2.85 0 1 0 -5.70 0zM985.86 54.26a2.85 2.85 0 1 0 5.70 0a2.85 2.85 0 1 0 -5.70 0zM989.87 53.74a2.85 2.85 0 1 0 5.70 0a2.85 2.85 0 1 0 -5.70 0zM993.87 53.21a2.85 2.85 0 1 0 5.70 0a2.85 2.85 0 1 0 -5.70 0zM997.88 52.68a2.85 2.85 0 1 0 5.70 0a2.85 2.85 0 1 0 -5.70 0z" fill="#fff" fill-opacity="0" stroke="#0a0a0a" stroke-width="0.9" stroke-linecap="square"/>
<polyline points="580.20,311.57 584.21,311.57 588.21,311.57 592.22,311.57 596.22,311.57 600.23,311.57 604.23,311.57 608.24,311.57 612.24,311.57 616.25,311.57 620.25,311.57 624.25,311.57 628.26,311.57 632.27,311.57 636.27,311.57 640.28,311.57 644.28,311.57 648.29,311.57 652.29,311.57 656.30,311.57 660.30,311.57 664.31,311.57 668.31,311.57 672.32,311.57 676.32,307.03 680.33,306.20 684.33,305.37 688.34,304.53 692.34,247.42 696.35,245.07 700.35,242.73 704.36,240.38 708.36,216.84 712.37,92.93 716.37,90.48 720.38,88.04 724.38,85.59 728.38,83.14 732.39,80.69 736.39,69.25 740.40,61.63 744.40,61.30 748.41,60.98 752.42,60.66 756.42,60.34 760.43,60.01 764.43,59.91 768.44,59.81 772.44,59.70 776.45,59.60 780.45,59.50 784.46,59.40 788.46,59.29 792.47,59.19 796.47,59.09 800.48,58.99 804.48,58.88 808.49,58.78 812.49,58.68 816.50,58.58 820.50,58.47 824.51,58.37 828.51,58.27 832.52,58.16 836.52,58.06 840.53,57.96 844.53,57.86 848.54,57.75 852.54,57.65 856.55,57.55 860.55,57.45 864.56,57.34 868.56,57.24 872.57,57.13 876.57,57.02 880.58,56.92 884.58,56.81 888.59,56.71 892.59,56.60 896.60,56.50 900.60,56.39 904.61,56.29 908.61,56.18 912.62,56.07 916.62,55.97 920.62,55.86 924.63,55.76 928.63,55.65 932.64,55.55 936.64,55.44 940.65,55.33 944.65,55.23 948.66,55.12 952.66,55.02 956.67,54.91 960.67,54.81 964.68,54.63 968.69,54.45 972.69,54.28 976.70,54.10 980.70,53.93 984.71,53.53 988.71,53.14 992.72,52.74 996.72,52.34 1000.73,51.95" fill="none" stroke="#111" stroke-width="0.7" stroke-dasharray="2.8 1.5"/>
<path d="M577.55 308.92h5.30v5.30h-5.30zM581.56 308.92h5.30v5.30h-5.30zM585.56 308.92h5.30v5.30h-5.30zM589.57 308.92h5.30v5.30h-5.30zM593.57 308.92h5.30v5.30h-5.30zM597.58 308.92h5.30v5.30h-5.30zM601.58 308.92h5.30v5.30h-5.30zM605.59 308.92h5.30v5.30h-5.30zM609.59 308.92h5.30v5.30h-5.30zM613.60 308.92h5.30v5.30h-5.30zM617.60 308.92h5.30v5.30h-5.30zM621.61 308.92h5.30v5.30h-5.30zM625.61 308.92h5.30v5.30h-5.30zM629.62 308.92h5.30v5.30h-5.30zM633.62 308.92h5.30v5.30h-5.30zM637.63 308.92h5.30v5.30h-5.30zM641.63 308.92h5.30v5.30h-5.30zM645.64 308.92h5.30v5.30h-5.30zM649.64 308.92h5.30v5.30h-5.30zM653.65 308.92h5.30v5.30h-5.30zM657.65 308.92h5.30v5.30h-5.30zM661.66 308.92h5.30v5.30h-5.30zM665.66 308.92h5.30v5.30h-5.30zM669.67 308.92h5.30v5.30h-5.30zM673.67 304.38h5.30v5.30h-5.30zM677.68 303.55h5.30v5.30h-5.30zM681.68 302.72h5.30v5.30h-5.30zM685.69 301.88h5.30v5.30h-5.30zM689.69 244.77h5.30v5.30h-5.30zM693.70 242.42h5.30v5.30h-5.30zM697.70 240.08h5.30v5.30h-5.30zM701.71 237.73h5.30v5.30h-5.30zM705.71 214.19h5.30v5.30h-5.30zM709.72 90.28h5.30v5.30h-5.30zM713.72 87.83h5.30v5.30h-5.30zM717.73 85.39h5.30v5.30h-5.30zM721.73 82.94h5.30v5.30h-5.30zM725.74 80.49h5.30v5.30h-5.30zM729.74 78.04h5.30v5.30h-5.30zM733.75 66.60h5.30v5.30h-5.30zM737.75 58.98h5.30v5.30h-5.30zM741.75 58.65h5.30v5.30h-5.30zM745.76 58.33h5.30v5.30h-5.30zM749.77 58.01h5.30v5.30h-5.30zM753.77 57.69h5.30v5.30h-5.30zM757.78 57.36h5.30v5.30h-5.30zM761.78 57.26h5.30v5.30h-5.30zM765.79 57.16h5.30v5.30h-5.30zM769.79 57.05h5.30v5.30h-5.30zM773.80 56.95h5.30v5.30h-5.30zM777.80 56.85h5.30v5.30h-5.30zM781.81 56.75h5.30v5.30h-5.30zM785.81 56.64h5.30v5.30h-5.30zM789.82 56.54h5.30v5.30h-5.30zM793.82 56.44h5.30v5.30h-5.30zM797.83 56.34h5.30v5.30h-5.30zM801.83 56.23h5.30v5.30h-5.30zM805.84 56.13h5.30v5.30h-5.30zM809.84 56.03h5.30v5.30h-5.30zM813.85 55.93h5.30v5.30h-5.30zM817.85 55.82h5.30v5.30h-5.30zM821.86 55.72h5.30v5.30h-5.30zM825.86 55.62h5.30v5.30h-5.30zM829.87 55.51h5.30v5.30h-5.30zM833.87 55.41h5.30v5.30h-5.30zM837.88 55.31h5.30v5.30h-5.30zM841.88 55.21h5.30v5.30h-5.30zM845.89 55.10h5.30v5.30h-5.30zM849.89 55.00h5.30v5.30h-5.30zM853.90 54.90h5.30v5.30h-5.30zM857.90 54.80h5.30v5.30h-5.30zM861.91 54.69h5.30v5.30h-5.30zM865.91 54.59h5.30v5.30h-5.30zM869.92 54.48h5.30v5.30h-5.30zM873.92 54.37h5.30v5.30h-5.30zM877.93 54.27h5.30v5.30h-5.30zM881.93 54.16h5.30v5.30h-5.30zM885.94 54.06h5.30v5.30h-5.30zM889.94 53.95h5.30v5.30h-5.30zM893.95 53.85h5.30v5.30h-5.30zM897.95 53.74h5.30v5.30h-5.30zM901.96 53.64h5.30v5.30h-5.30zM905.96 53.53h5.30v5.30h-5.30zM909.97 53.42h5.30v5.30h-5.30zM913.97 53.32h5.30v5.30h-5.30zM917.98 53.21h5.30v5.30h-5.30zM921.98 53.11h5.30v5.30h-5.30zM925.99 53.00h5.30v5.30h-5.30zM929.99 52.90h5.30v5.30h-5.30zM934.00 52.79h5.30v5.30h-5.30zM938.00 52.68h5.30v5.30h-5.30zM942.00 52.58h5.30v5.30h-5.30zM946.01 52.47h5.30v5.30h-5.30zM950.01 52.37h5.30v5.30h-5.30zM954.02 52.26h5.30v5.30h-5.30zM958.02 52.16h5.30v5.30h-5.30zM962.03 51.98h5.30v5.30h-5.30zM966.04 51.80h5.30v5.30h-5.30zM970.04 51.63h5.30v5.30h-5.30zM974.05 51.45h5.30v5.30h-5.30zM978.05 51.28h5.30v5.30h-5.30zM982.06 50.88h5.30v5.30h-5.30zM986.06 50.49h5.30v5.30h-5.30zM990.07 50.09h5.30v5.30h-5.30zM994.07 49.69h5.30v5.30h-5.30zM998.08 49.30h5.30v5.30h-5.30z" fill="#000" stroke="#000" stroke-width="0.9" stroke-linecap="square"/>
<g font-size="13.4">
<line x1="608.40" x2="630.40" y1="5.5" y2="5.5" stroke="#111" stroke-width="0.7" stroke-dasharray="4 1.6"/>
<path d="M616.75 5.50H622.05M619.40 2.85V8.15" fill="none" stroke="#111" stroke-width="0.9" stroke-linecap="square"/>
<text x="639.00" y="10.10">0.7</text>
<line x1="671.02" x2="693.02" y1="5.5" y2="5.5" stroke="#111" stroke-width="0.7" stroke-dasharray="2.4 2.4"/>
<path d="M679.37 2.85L684.67 8.15M679.37 8.15L684.67 2.85" fill="none" stroke="#111" stroke-width="0.9" stroke-linecap="square"/>
<text x="701.62" y="10.10">0.6</text>
<line x1="734.00" x2="755.64" y1="5.5" y2="5.5" stroke="#111" stroke-width="0.7" stroke-dasharray="1 1"/>
<path d="M741.99 2.85L747.29 8.15M741.99 8.15L747.29 2.85M744.64 2.05V8.95" fill="none" stroke="#111" stroke-width="0.9" stroke-linecap="square"/>
<text x="764.24" y="10.10">0.5</text>
<line x1="796.26" x2="818.26" y1="5.5" y2="5.5" stroke="#111" stroke-width="0.7" stroke-dasharray="5.4 2.4 1 1.4 1 1.4 1 1.4 1 1.4 1 1.4 1 1.4"/>
<path d="M804.51 2.75h5.50v5.50h-5.50z" fill="none" stroke="#111" stroke-width="0.9" stroke-linecap="square"/>
<text x="826.86" y="10.10">0.4</text>
<line x1="858.88" x2="880.88" y1="5.5" y2="5.5" stroke="#111" stroke-width="0.7" stroke-dasharray="2.8 1.5"/>
<path d="M867.23 2.85h5.30v5.30h-5.30z" fill="#000" stroke="#000" stroke-width="0.9" stroke-linecap="square"/>
<text x="889.48" y="10.10">0.3</text>
<line x1="921.50" x2="943.50" y1="5.5" y2="5.5" stroke="#111" stroke-width="0.7" stroke-dasharray="1.6 1.3"/>
<path d="M929.65 5.50a2.85 2.85 0 1 0 5.70 0a2.85 2.85 0 1 0 -5.70 0z" fill="none" stroke="#111" stroke-width="0.9" stroke-linecap="square"/>
<text x="952.10" y="10.10">0.2</text>
</g>
</g>

<g font-family="'Liberation Serif','DejaVu Serif',serif" font-size="21">
<text x="112.7" y="387.7" textLength="22.3" lengthAdjust="spacingAndGlyphs">(a)</text>
<text x="145.3" y="387.9" font-size="23" font-style="italic">A</text>
<text x="160.6" y="391.6" font-size="15.5" font-style="italic">ϵ</text>
<text x="176.2" y="390.1" textLength="15" lengthAdjust="spacingAndGlyphs">=</text>
<text x="199.2" y="387.7" textLength="30.2" lengthAdjust="spacingAndGlyphs">0.4,</text>
<text x="238" y="387.9" font-size="23" font-style="italic">A</text>
<text x="252.7" y="391.8" font-size="15" font-style="italic" textLength="8.2" lengthAdjust="spacingAndGlyphs">b</text>
<text x="267.6" y="387.7" textLength="91.8" lengthAdjust="spacingAndGlyphs">is changed</text>
<text x="630.2" y="387.7" textLength="23.3" lengthAdjust="spacingAndGlyphs">(b)</text>
<text x="664.2" y="387.9" font-size="23" font-style="italic">A</text>
<text x="678.9" y="391.8" font-size="15" font-style="italic" textLength="8.2" lengthAdjust="spacingAndGlyphs">b</text>
<text x="695.3" y="390.1" textLength="15" lengthAdjust="spacingAndGlyphs">=</text>
<text x="718.2" y="387.7" textLength="30.4" lengthAdjust="spacingAndGlyphs">0.7,</text>
<text x="756.8" y="387.9" font-size="23" font-style="italic">A</text>
<text x="772.2" y="391.6" font-size="15.5" font-style="italic">ϵ</text>
<text x="786.5" y="387.7" textLength="91.6" lengthAdjust="spacingAndGlyphs">is changed</text>
</g>

</svg>
</body></html>
